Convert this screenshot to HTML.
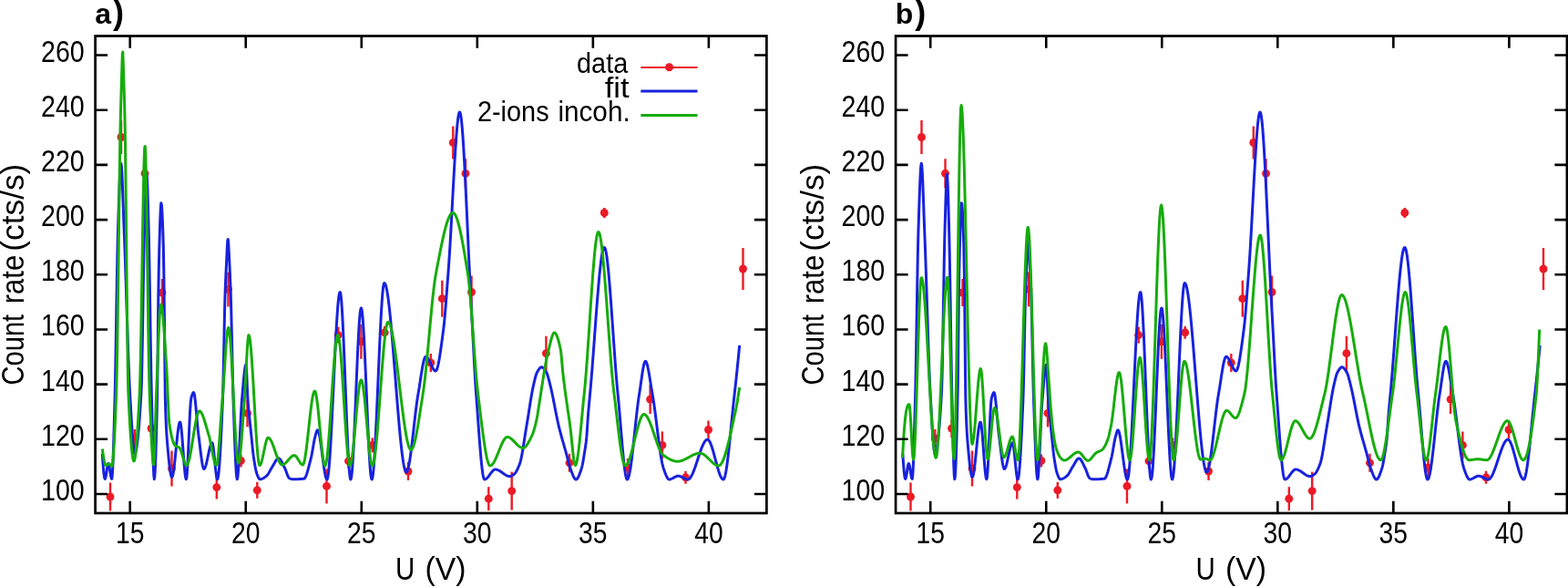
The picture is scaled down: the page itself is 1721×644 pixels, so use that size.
<!DOCTYPE html>
<html><head><meta charset="utf-8"><title>Count rate vs U</title>
<style>html,body{margin:0;padding:0;background:#fff;overflow:hidden}svg{display:block}</style>
</head><body>
<svg width="1721" height="644" viewBox="0 0 1721 644">
<style>
.t{font-family:"Liberation Sans",sans-serif;font-size:32.5px;fill:#000}
.a{font-family:"Liberation Sans",sans-serif;font-size:34.5px;fill:#000}
.l{font-family:"Liberation Sans",sans-serif;font-size:31px;fill:#000}
.b{font-family:"Liberation Sans",sans-serif;font-size:32px;font-weight:bold;fill:#000}
</style>
<rect width="1721" height="644" fill="#fff"/>
<clipPath id="ca"><rect x="104.6" y="39.5" width="736.8" height="523.5"/></clipPath>
<g clip-path="url(#ca)">
<line x1="121.0" y1="529.5" x2="121.0" y2="560.5" stroke="#ec1a26" stroke-width="2.4"/>
<circle cx="121.0" cy="545.0" r="4.45" fill="#ec1a26"/>
<line x1="133.0" y1="131.9" x2="133.0" y2="169.1" stroke="#ec1a26" stroke-width="2.4"/>
<circle cx="133.0" cy="150.5" r="4.45" fill="#ec1a26"/>
<line x1="147.8" y1="471.0" x2="147.8" y2="491.0" stroke="#ec1a26" stroke-width="2.4"/>
<circle cx="147.8" cy="481.0" r="4.45" fill="#ec1a26"/>
<line x1="159.0" y1="174.3" x2="159.0" y2="206.3" stroke="#ec1a26" stroke-width="2.4"/>
<circle cx="159.0" cy="190.3" r="4.45" fill="#ec1a26"/>
<line x1="166.0" y1="460.0" x2="166.0" y2="480.0" stroke="#ec1a26" stroke-width="2.4"/>
<circle cx="166.0" cy="470.0" r="4.45" fill="#ec1a26"/>
<line x1="178.0" y1="306.0" x2="178.0" y2="336.0" stroke="#ec1a26" stroke-width="2.4"/>
<circle cx="178.0" cy="321.0" r="4.45" fill="#ec1a26"/>
<line x1="188.5" y1="494.5" x2="188.5" y2="533.5" stroke="#ec1a26" stroke-width="2.4"/>
<circle cx="188.5" cy="514.0" r="4.45" fill="#ec1a26"/>
<line x1="237.8" y1="521.6" x2="237.8" y2="547.6" stroke="#ec1a26" stroke-width="2.4"/>
<circle cx="237.8" cy="534.6" r="4.45" fill="#ec1a26"/>
<line x1="250.5" y1="298.4" x2="250.5" y2="336.4" stroke="#ec1a26" stroke-width="2.4"/>
<circle cx="250.5" cy="317.4" r="4.45" fill="#ec1a26"/>
<line x1="264.4" y1="498.5" x2="264.4" y2="512.5" stroke="#ec1a26" stroke-width="2.4"/>
<circle cx="264.4" cy="505.5" r="4.45" fill="#ec1a26"/>
<line x1="271.5" y1="438.4" x2="271.5" y2="468.4" stroke="#ec1a26" stroke-width="2.4"/>
<circle cx="271.5" cy="453.4" r="4.45" fill="#ec1a26"/>
<line x1="282.3" y1="528.8" x2="282.3" y2="546.8" stroke="#ec1a26" stroke-width="2.4"/>
<circle cx="282.3" cy="537.8" r="4.45" fill="#ec1a26"/>
<line x1="358.5" y1="514.4" x2="358.5" y2="552.4" stroke="#ec1a26" stroke-width="2.4"/>
<circle cx="358.5" cy="533.4" r="4.45" fill="#ec1a26"/>
<line x1="371.2" y1="358.6" x2="371.2" y2="376.6" stroke="#ec1a26" stroke-width="2.4"/>
<circle cx="371.2" cy="367.6" r="4.45" fill="#ec1a26"/>
<line x1="382.5" y1="497.8" x2="382.5" y2="513.8" stroke="#ec1a26" stroke-width="2.4"/>
<circle cx="382.5" cy="505.8" r="4.45" fill="#ec1a26"/>
<line x1="396.4" y1="355.8" x2="396.4" y2="393.8" stroke="#ec1a26" stroke-width="2.4"/>
<circle cx="396.4" cy="374.8" r="4.45" fill="#ec1a26"/>
<line x1="408.7" y1="480.4" x2="408.7" y2="496.4" stroke="#ec1a26" stroke-width="2.4"/>
<circle cx="408.7" cy="488.4" r="4.45" fill="#ec1a26"/>
<line x1="422.2" y1="357.8" x2="422.2" y2="371.8" stroke="#ec1a26" stroke-width="2.4"/>
<circle cx="422.2" cy="364.8" r="4.45" fill="#ec1a26"/>
<line x1="448.0" y1="507.0" x2="448.0" y2="527.0" stroke="#ec1a26" stroke-width="2.4"/>
<circle cx="448.0" cy="517.0" r="4.45" fill="#ec1a26"/>
<line x1="472.8" y1="388.0" x2="472.8" y2="408.0" stroke="#ec1a26" stroke-width="2.4"/>
<circle cx="472.8" cy="398.0" r="4.45" fill="#ec1a26"/>
<line x1="485.3" y1="307.7" x2="485.3" y2="347.7" stroke="#ec1a26" stroke-width="2.4"/>
<circle cx="485.3" cy="327.7" r="4.45" fill="#ec1a26"/>
<line x1="497.3" y1="138.5" x2="497.3" y2="174.5" stroke="#ec1a26" stroke-width="2.4"/>
<circle cx="497.3" cy="156.5" r="4.45" fill="#ec1a26"/>
<line x1="511.0" y1="174.3" x2="511.0" y2="206.3" stroke="#ec1a26" stroke-width="2.4"/>
<circle cx="511.0" cy="190.3" r="4.45" fill="#ec1a26"/>
<line x1="517.5" y1="302.5" x2="517.5" y2="338.5" stroke="#ec1a26" stroke-width="2.4"/>
<circle cx="517.5" cy="320.5" r="4.45" fill="#ec1a26"/>
<line x1="536.3" y1="534.2" x2="536.3" y2="560.2" stroke="#ec1a26" stroke-width="2.4"/>
<circle cx="536.3" cy="547.2" r="4.45" fill="#ec1a26"/>
<line x1="561.7" y1="517.6" x2="561.7" y2="559.6" stroke="#ec1a26" stroke-width="2.4"/>
<circle cx="561.7" cy="538.6" r="4.45" fill="#ec1a26"/>
<line x1="599.4" y1="368.7" x2="599.4" y2="406.7" stroke="#ec1a26" stroke-width="2.4"/>
<circle cx="599.4" cy="387.7" r="4.45" fill="#ec1a26"/>
<line x1="625.0" y1="497.8" x2="625.0" y2="517.8" stroke="#ec1a26" stroke-width="2.4"/>
<circle cx="625.0" cy="507.8" r="4.45" fill="#ec1a26"/>
<line x1="663.3" y1="228.0" x2="663.3" y2="239.0" stroke="#ec1a26" stroke-width="2.4"/>
<circle cx="663.3" cy="233.5" r="4.45" fill="#ec1a26"/>
<line x1="689.0" y1="503.0" x2="689.0" y2="523.0" stroke="#ec1a26" stroke-width="2.4"/>
<circle cx="689.0" cy="513.0" r="4.45" fill="#ec1a26"/>
<line x1="713.6" y1="422.1" x2="713.6" y2="454.1" stroke="#ec1a26" stroke-width="2.4"/>
<circle cx="713.6" cy="438.1" r="4.45" fill="#ec1a26"/>
<line x1="726.9" y1="473.4" x2="726.9" y2="503.4" stroke="#ec1a26" stroke-width="2.4"/>
<circle cx="726.9" cy="488.4" r="4.45" fill="#ec1a26"/>
<line x1="752.5" y1="516.8" x2="752.5" y2="530.8" stroke="#ec1a26" stroke-width="2.4"/>
<circle cx="752.5" cy="523.8" r="4.45" fill="#ec1a26"/>
<line x1="777.5" y1="461.5" x2="777.5" y2="481.5" stroke="#ec1a26" stroke-width="2.4"/>
<circle cx="777.5" cy="471.5" r="4.45" fill="#ec1a26"/>
<line x1="815.5" y1="272.0" x2="815.5" y2="318.0" stroke="#ec1a26" stroke-width="2.4"/>
<circle cx="815.5" cy="295.0" r="4.45" fill="#ec1a26"/>
<path d="M112.30,497.70 L112.80,505.31 L113.30,512.13 L113.80,517.85 L114.30,522.18 L114.80,524.81 L115.30,525.46 L115.80,524.30 L116.30,521.89 L116.80,518.71 L117.30,515.29 L117.80,512.11 L118.30,509.70 L118.80,508.54 L119.30,509.03 L119.80,510.91 L120.30,513.72 L120.80,517.00 L121.30,520.28 L121.80,523.09 L122.30,524.97 L122.80,525.37 L123.30,521.17 L123.80,511.87 L124.30,498.65 L124.80,482.66 L125.30,465.08 L125.80,447.07 L126.30,428.04 L126.80,402.60 L127.30,372.58 L127.80,340.57 L128.30,309.22 L128.80,281.13 L129.30,258.92 L129.80,242.71 L130.30,226.96 L130.80,212.13 L131.30,199.07 L131.80,188.67 L132.30,181.79 L132.80,179.30 L133.30,182.05 L133.80,189.49 L134.30,200.42 L134.80,213.64 L135.30,227.94 L135.80,242.13 L136.30,255.01 L136.80,267.89 L137.30,281.93 L137.80,296.87 L138.30,312.44 L138.80,328.36 L139.30,344.35 L139.80,360.14 L140.30,375.45 L140.80,390.02 L141.30,403.56 L141.80,415.80 L142.30,426.47 L142.80,435.48 L143.30,444.32 L143.80,453.18 L144.30,461.85 L144.80,470.09 L145.30,477.68 L145.80,484.39 L146.30,490.01 L146.80,494.30 L147.30,497.04 L147.80,498.00 L148.30,497.62 L148.80,496.49 L149.30,494.63 L149.80,492.08 L150.30,488.86 L150.80,484.99 L151.30,480.49 L151.80,475.40 L152.30,469.73 L152.80,463.52 L153.30,456.78 L153.80,449.55 L154.30,441.84 L154.80,433.68 L155.30,421.86 L155.80,401.24 L156.30,374.39 L156.80,344.15 L157.30,313.32 L157.80,284.73 L158.30,261.18 L158.80,243.43 L159.30,225.71 L159.80,209.52 L160.30,197.30 L160.80,191.48 L161.30,194.23 L161.80,204.75 L162.30,220.49 L162.80,238.89 L163.30,257.61 L163.80,281.61 L164.30,311.61 L164.80,344.64 L165.30,377.70 L165.80,407.82 L166.30,432.00 L166.80,452.99 L167.30,474.29 L167.80,494.06 L168.30,510.47 L168.80,521.66 L169.30,525.80 L169.80,522.97 L170.30,514.95 L170.80,502.48 L171.30,486.29 L171.80,467.10 L172.30,445.65 L172.80,419.80 L173.30,372.90 L173.80,325.80 L174.30,295.63 L174.80,272.81 L175.30,255.95 L175.80,240.38 L176.30,228.44 L176.80,222.68 L177.30,224.16 L177.80,230.45 L178.30,240.64 L178.80,253.87 L179.30,269.30 L179.80,296.90 L180.30,336.18 L180.80,391.15 L181.30,435.45 L181.80,452.84 L182.30,465.39 L182.80,474.87 L183.30,482.16 L183.80,488.14 L184.30,493.76 L184.80,499.17 L185.30,504.27 L185.80,508.98 L186.30,513.19 L186.80,516.81 L187.30,519.74 L187.80,521.90 L188.30,523.17 L188.80,523.48 L189.30,522.71 L189.80,520.96 L190.30,518.34 L190.80,514.98 L191.30,511.03 L191.80,506.59 L192.30,501.81 L192.80,496.81 L193.30,491.72 L193.80,486.67 L194.30,481.78 L194.80,477.20 L195.30,473.03 L195.80,469.42 L196.30,466.50 L196.80,464.38 L197.30,463.20 L197.80,463.16 L198.30,464.86 L198.80,468.18 L199.30,472.81 L199.80,478.47 L200.30,484.84 L200.80,491.63 L201.30,498.55 L201.80,505.28 L202.30,511.53 L202.80,517.01 L203.30,521.40 L203.80,524.42 L204.30,525.76 L204.80,524.52 L205.30,519.71 L205.80,512.03 L206.30,502.24 L206.80,491.07 L207.30,479.27 L207.80,467.60 L208.30,456.78 L208.80,447.58 L209.30,440.74 L209.80,437.00 L210.30,435.13 L210.80,433.45 L211.30,432.06 L211.80,431.06 L212.30,430.55 L212.80,430.80 L213.30,432.54 L213.80,435.59 L214.30,439.71 L214.80,444.62 L215.30,450.08 L215.80,455.82 L216.30,461.58 L216.80,467.12 L217.30,472.16 L217.80,476.45 L218.30,480.20 L218.80,484.18 L219.30,488.31 L219.80,492.49 L220.30,496.60 L220.80,500.53 L221.30,504.19 L221.80,507.46 L222.30,510.23 L222.80,512.39 L223.30,513.85 L223.80,514.48 L224.30,514.33 L224.80,513.68 L225.30,512.59 L225.80,511.13 L226.30,509.36 L226.80,507.34 L227.30,505.13 L227.80,502.80 L228.30,500.39 L228.80,497.98 L229.30,495.62 L229.80,493.38 L230.30,491.32 L230.80,489.50 L231.30,487.97 L231.80,486.81 L232.30,486.06 L232.80,485.80 L233.30,486.64 L233.80,488.96 L234.30,492.44 L234.80,496.79 L235.30,501.69 L235.80,506.83 L236.30,511.92 L236.80,516.63 L237.30,520.67 L237.80,523.73 L238.30,525.49 L238.80,525.66 L239.30,524.09 L239.80,520.89 L240.30,516.21 L240.80,510.16 L241.30,502.88 L241.80,494.51 L242.30,485.18 L242.80,475.01 L243.30,464.14 L243.80,452.71 L244.30,440.84 L244.80,426.87 L245.30,405.26 L245.80,379.32 L246.30,353.24 L246.80,331.23 L247.30,316.04 L247.80,303.83 L248.30,293.23 L248.80,283.14 L249.30,272.03 L249.80,263.69 L250.30,262.58 L250.80,268.17 L251.30,277.36 L251.80,287.30 L252.30,297.73 L252.80,310.19 L253.30,324.50 L253.80,342.58 L254.30,364.79 L254.80,388.58 L255.30,411.43 L255.80,430.80 L256.30,445.59 L256.80,460.10 L257.30,474.38 L257.80,487.90 L258.30,500.14 L258.80,510.58 L259.30,518.68 L259.80,523.93 L260.30,525.80 L260.80,523.99 L261.30,518.99 L261.80,511.45 L262.30,502.00 L262.80,491.29 L263.30,479.95 L263.80,468.63 L264.30,457.97 L264.80,448.61 L265.30,441.19 L265.80,435.34 L266.30,429.37 L266.80,423.41 L267.30,417.70 L267.80,412.44 L268.30,407.84 L268.80,404.11 L269.30,401.47 L269.80,400.13 L270.30,401.92 L270.80,411.42 L271.30,424.33 L271.80,435.45 L272.30,442.33 L272.80,448.30 L273.30,453.66 L273.80,458.60 L274.30,463.28 L274.80,467.88 L275.30,472.56 L275.80,477.49 L276.30,482.59 L276.80,487.67 L277.30,492.56 L277.80,497.07 L278.30,501.02 L278.80,504.35 L279.30,507.50 L279.80,510.47 L280.30,513.20 L280.80,515.65 L281.30,517.74 L281.80,519.44 L282.30,520.78 L282.80,522.05 L283.30,523.23 L283.80,524.26 L284.30,525.07 L284.80,525.61 L285.30,525.80 L285.80,525.78 L286.30,525.70 L286.80,525.59 L287.30,525.43 L287.80,525.23 L288.30,525.01 L288.80,524.75 L289.30,524.46 L289.80,524.15 L290.30,523.81 L290.80,523.46 L291.30,523.10 L291.80,522.72 L292.30,522.33 L292.80,521.93 L293.30,521.42 L293.80,520.80 L294.30,520.07 L294.80,519.27 L295.30,518.40 L295.80,517.50 L296.30,516.56 L296.80,515.63 L297.30,514.71 L297.80,513.81 L298.30,512.97 L298.80,512.20 L299.30,511.43 L299.80,510.60 L300.30,509.73 L300.80,508.83 L301.30,507.93 L301.80,507.05 L302.30,506.20 L302.80,505.41 L303.30,504.70 L303.80,504.07 L304.30,503.56 L304.80,503.18 L305.30,502.96 L305.80,502.90 L306.30,503.04 L306.80,503.36 L307.30,503.84 L307.80,504.46 L308.30,505.20 L308.80,506.04 L309.30,506.96 L309.80,507.94 L310.30,508.96 L310.80,509.99 L311.30,511.03 L311.80,512.05 L312.30,513.03 L312.80,514.00 L313.30,515.15 L313.80,516.45 L314.30,517.84 L314.80,519.25 L315.30,520.63 L315.80,521.90 L316.30,523.00 L316.80,523.88 L317.30,524.46 L317.80,524.76 L318.30,525.01 L318.80,525.24 L319.30,525.43 L319.80,525.59 L320.30,525.71 L320.80,525.78 L321.30,525.80 L321.80,525.80 L322.30,525.80 L322.80,525.79 L323.30,525.78 L323.80,525.78 L324.30,525.77 L324.80,525.75 L325.30,525.74 L325.80,525.72 L326.30,525.71 L326.80,525.69 L327.30,525.66 L327.80,525.64 L328.30,525.61 L328.80,525.59 L329.30,525.56 L329.80,525.52 L330.30,525.49 L330.80,525.45 L331.30,525.41 L331.80,525.37 L332.30,525.33 L332.80,525.28 L333.30,525.23 L333.80,525.15 L334.30,524.83 L334.80,524.23 L335.30,523.38 L335.80,522.29 L336.30,521.01 L336.80,519.55 L337.30,517.95 L337.80,516.21 L338.30,514.38 L338.80,512.48 L339.30,510.52 L339.80,508.55 L340.30,506.58 L340.80,504.64 L341.30,502.71 L341.80,500.48 L342.30,497.94 L342.80,495.18 L343.30,492.31 L343.80,489.40 L344.30,486.55 L344.80,483.86 L345.30,481.42 L345.80,479.32 L346.30,477.53 L346.80,475.69 L347.30,473.97 L347.80,472.62 L348.30,471.87 L348.80,471.93 L349.30,472.71 L349.80,474.13 L350.30,476.11 L350.80,478.58 L351.30,481.47 L351.80,484.71 L352.30,488.22 L352.80,491.93 L353.30,495.78 L353.80,499.68 L354.30,503.57 L354.80,507.37 L355.30,511.01 L355.80,514.42 L356.30,517.53 L356.80,520.26 L357.30,522.55 L357.80,524.31 L358.30,525.48 L358.80,525.99 L359.30,525.53 L359.80,523.66 L360.30,520.48 L360.80,516.08 L361.30,510.58 L361.80,504.07 L362.30,496.67 L362.80,488.48 L363.30,479.61 L363.80,470.15 L364.30,460.22 L364.80,449.92 L365.30,439.36 L365.80,428.64 L366.30,417.86 L366.80,407.14 L367.30,396.58 L367.80,386.28 L368.30,376.35 L368.80,366.89 L369.30,358.02 L369.80,349.83 L370.30,342.43 L370.80,335.92 L371.30,330.42 L371.80,326.02 L372.30,322.84 L372.80,320.97 L373.30,320.54 L373.80,322.07 L374.30,325.61 L374.80,330.98 L375.30,337.98 L375.80,346.43 L376.30,356.13 L376.80,366.89 L377.30,378.52 L377.80,390.82 L378.30,403.60 L378.80,416.67 L379.30,429.83 L379.80,442.90 L380.30,455.68 L380.80,467.98 L381.30,479.61 L381.80,490.37 L382.30,500.07 L382.80,508.52 L383.30,515.52 L383.80,520.89 L384.30,524.43 L384.80,525.96 L385.30,525.33 L385.80,522.72 L386.30,518.32 L386.80,512.29 L387.30,504.84 L387.80,496.15 L388.30,486.40 L388.80,475.77 L389.30,464.46 L389.80,452.65 L390.30,440.53 L390.80,428.27 L391.30,416.07 L391.80,404.11 L392.30,392.58 L392.80,381.66 L393.30,371.54 L393.80,362.40 L394.30,354.43 L394.80,347.81 L395.30,342.73 L395.80,339.38 L396.30,337.94 L396.80,338.54 L397.30,341.07 L397.80,345.34 L398.30,351.17 L398.80,358.40 L399.30,366.84 L399.80,376.32 L400.30,386.67 L400.80,397.70 L401.30,409.24 L401.80,421.12 L402.30,433.16 L402.80,445.17 L403.30,457.00 L403.80,468.45 L404.30,479.36 L404.80,489.55 L405.30,498.84 L405.80,507.05 L406.30,514.01 L406.80,519.55 L407.30,523.48 L407.80,525.64 L408.30,525.86 L408.80,524.37 L409.30,521.33 L409.80,516.87 L410.30,511.11 L410.80,504.19 L411.30,496.22 L411.80,487.33 L412.30,477.66 L412.80,467.31 L413.30,456.43 L413.80,445.13 L414.30,433.54 L414.80,421.79 L415.30,410.00 L415.80,398.30 L416.30,386.81 L416.80,375.66 L417.30,364.98 L417.80,354.88 L418.30,345.51 L418.80,336.97 L419.30,329.41 L419.80,322.94 L420.30,317.68 L420.80,313.78 L421.30,311.34 L421.80,310.50 L422.30,310.76 L422.80,311.53 L423.30,312.79 L423.80,314.52 L424.30,316.69 L424.80,319.28 L425.30,322.27 L425.80,325.63 L426.30,329.36 L426.80,333.41 L427.30,337.78 L427.80,342.44 L428.30,347.37 L428.80,352.54 L429.30,357.94 L429.80,363.54 L430.30,369.31 L430.80,375.25 L431.30,381.32 L431.80,387.51 L432.30,393.79 L432.80,400.14 L433.30,406.54 L433.80,412.96 L434.30,419.39 L434.80,425.80 L435.30,432.18 L435.80,438.49 L436.30,444.71 L436.80,450.83 L437.30,456.83 L437.80,462.67 L438.30,468.35 L438.80,473.83 L439.30,479.09 L439.80,484.12 L440.30,488.89 L440.80,493.38 L441.30,497.56 L441.80,501.42 L442.30,504.93 L442.80,508.08 L443.30,510.83 L443.80,513.17 L444.30,515.07 L444.80,516.52 L445.30,517.49 L445.80,517.96 L446.30,517.90 L446.80,517.32 L447.30,516.24 L447.80,514.71 L448.30,512.75 L448.80,510.39 L449.30,507.68 L449.80,504.64 L450.30,501.31 L450.80,497.72 L451.30,493.91 L451.80,489.92 L452.30,485.76 L452.80,481.49 L453.30,477.13 L453.80,472.72 L454.30,468.29 L454.80,463.87 L455.30,459.50 L455.80,455.21 L456.30,451.05 L456.80,447.03 L457.30,443.19 L457.80,439.58 L458.30,436.22 L458.80,433.14 L459.30,430.29 L459.80,427.29 L460.30,424.15 L460.80,420.92 L461.30,417.63 L461.80,414.34 L462.30,411.10 L462.80,407.94 L463.30,404.92 L463.80,402.08 L464.30,399.47 L464.80,397.14 L465.30,395.12 L465.80,393.48 L466.30,392.24 L466.80,391.47 L467.30,391.20 L467.80,391.30 L468.30,391.58 L468.80,392.03 L469.30,392.62 L469.80,393.35 L470.30,394.18 L470.80,395.10 L471.30,396.10 L471.80,397.14 L472.30,398.22 L472.80,399.32 L473.30,400.41 L473.80,401.48 L474.30,402.51 L474.80,403.48 L475.30,404.36 L475.80,405.16 L476.30,405.83 L476.80,406.37 L477.30,406.75 L477.80,406.96 L478.30,406.96 L478.80,406.54 L479.30,405.68 L479.80,404.40 L480.30,402.75 L480.80,400.75 L481.30,398.43 L481.80,395.83 L482.30,392.96 L482.80,389.88 L483.30,386.59 L483.80,383.15 L484.30,379.57 L484.80,375.89 L485.30,372.13 L485.80,368.34 L486.30,364.53 L486.80,360.73 L487.30,356.47 L487.80,351.58 L488.30,346.15 L488.80,340.29 L489.30,334.09 L489.80,327.65 L490.30,321.04 L490.80,314.39 L491.30,307.76 L491.80,301.27 L492.30,294.72 L492.80,287.57 L493.30,279.89 L493.80,271.75 L494.30,263.22 L494.80,254.38 L495.30,245.29 L495.80,236.03 L496.30,226.67 L496.80,217.29 L497.30,207.96 L497.80,198.75 L498.30,189.73 L498.80,180.97 L499.30,172.56 L499.80,164.56 L500.30,157.04 L500.80,150.08 L501.30,143.76 L501.80,138.13 L502.30,133.28 L502.80,129.28 L503.30,126.20 L503.80,124.11 L504.30,123.09 L504.80,123.23 L505.30,124.57 L505.80,127.07 L506.30,130.65 L506.80,135.24 L507.30,140.76 L507.80,147.15 L508.30,154.34 L508.80,162.24 L509.30,170.80 L509.80,179.93 L510.30,189.57 L510.80,199.64 L511.30,210.08 L511.80,220.81 L512.30,231.75 L512.80,242.84 L513.30,254.01 L513.80,265.19 L514.30,276.29 L514.80,287.26 L515.30,298.01 L515.80,308.48 L516.30,318.60 L516.80,328.29 L517.30,337.48 L517.80,346.30 L518.30,355.48 L518.80,364.96 L519.30,374.61 L519.80,384.27 L520.30,393.81 L520.80,403.08 L521.30,411.94 L521.80,420.24 L522.30,427.84 L522.80,434.68 L523.30,441.52 L523.80,448.49 L524.30,455.51 L524.80,462.55 L525.30,469.52 L525.80,476.36 L526.30,483.02 L526.80,489.43 L527.30,495.53 L527.80,501.26 L528.30,506.54 L528.80,511.33 L529.30,515.55 L529.80,519.14 L530.30,522.05 L530.80,524.20 L531.30,525.54 L531.80,526.00 L532.30,525.94 L532.80,525.78 L533.30,525.52 L533.80,525.17 L534.30,524.75 L534.80,524.26 L535.30,523.71 L535.80,523.11 L536.30,522.47 L536.80,521.81 L537.30,521.12 L537.80,520.43 L538.30,519.74 L538.80,519.06 L539.30,518.40 L539.80,517.77 L540.30,517.18 L540.80,516.64 L541.30,516.16 L541.80,515.75 L542.30,515.42 L542.80,515.18 L543.30,515.04 L543.80,515.00 L544.30,515.03 L544.80,515.11 L545.30,515.22 L545.80,515.37 L546.30,515.55 L546.80,515.76 L547.30,516.00 L547.80,516.27 L548.30,516.56 L548.80,516.86 L549.30,517.19 L549.80,517.52 L550.30,517.87 L550.80,518.22 L551.30,518.58 L551.80,518.94 L552.30,519.30 L552.80,519.66 L553.30,520.01 L553.80,520.35 L554.30,520.67 L554.80,520.98 L555.30,521.27 L555.80,521.54 L556.30,521.79 L556.80,522.01 L557.30,522.20 L557.80,522.35 L558.30,522.48 L558.80,522.56 L559.30,522.60 L559.80,522.59 L560.30,522.51 L560.80,522.37 L561.30,522.17 L561.80,521.93 L562.30,521.65 L562.80,521.33 L563.30,520.99 L563.80,520.64 L564.30,520.27 L564.80,519.80 L565.30,519.23 L565.80,518.57 L566.30,517.83 L566.80,517.00 L567.30,516.08 L567.80,515.10 L568.30,514.03 L568.80,512.90 L569.30,511.71 L569.80,510.45 L570.30,509.14 L570.80,507.72 L571.30,505.97 L571.80,503.92 L572.30,501.59 L572.80,499.03 L573.30,496.26 L573.80,493.32 L574.30,490.25 L574.80,487.09 L575.30,483.88 L575.80,480.64 L576.30,477.41 L576.80,474.23 L577.30,471.14 L577.80,468.18 L578.30,465.27 L578.80,462.26 L579.30,459.16 L579.80,456.00 L580.30,452.80 L580.80,449.57 L581.30,446.36 L581.80,443.17 L582.30,440.04 L582.80,436.98 L583.30,434.02 L583.80,431.18 L584.30,428.49 L584.80,425.97 L585.30,423.64 L585.80,421.45 L586.30,419.27 L586.80,417.14 L587.30,415.11 L587.80,413.23 L588.30,411.53 L588.80,410.07 L589.30,408.88 L589.80,407.97 L590.30,407.09 L590.80,406.26 L591.30,405.47 L591.80,404.76 L592.30,404.13 L592.80,403.60 L593.30,403.19 L593.80,402.92 L594.30,402.80 L594.80,402.85 L595.30,403.03 L595.80,403.33 L596.30,403.75 L596.80,404.26 L597.30,404.86 L597.80,405.53 L598.30,406.26 L598.80,407.03 L599.30,407.84 L599.80,408.67 L600.30,409.73 L600.80,411.06 L601.30,412.63 L601.80,414.38 L602.30,416.26 L602.80,418.23 L603.30,420.23 L603.80,422.22 L604.30,424.19 L604.80,426.26 L605.30,428.46 L605.80,430.75 L606.30,433.12 L606.80,435.57 L607.30,438.07 L607.80,440.62 L608.30,443.20 L608.80,445.79 L609.30,448.39 L609.80,450.98 L610.30,453.54 L610.80,456.06 L611.30,458.53 L611.80,460.93 L612.30,463.25 L612.80,465.48 L613.30,467.60 L613.80,469.63 L614.30,471.61 L614.80,473.53 L615.30,475.42 L615.80,477.26 L616.30,479.07 L616.80,480.86 L617.30,482.62 L617.80,484.37 L618.30,486.11 L618.80,487.84 L619.30,489.58 L619.80,491.33 L620.30,493.09 L620.80,494.87 L621.30,496.67 L621.80,498.52 L622.30,500.47 L622.80,502.47 L623.30,504.50 L623.80,506.51 L624.30,508.45 L624.80,510.28 L625.30,511.97 L625.80,513.46 L626.30,514.78 L626.80,516.11 L627.30,517.46 L627.80,518.79 L628.30,520.08 L628.80,521.31 L629.30,522.44 L629.80,523.47 L630.30,524.35 L630.80,525.07 L631.30,525.60 L631.80,525.92 L632.30,526.00 L632.80,525.83 L633.30,525.45 L633.80,524.87 L634.30,524.10 L634.80,523.18 L635.30,522.10 L635.80,520.90 L636.30,519.59 L636.80,518.19 L637.30,516.72 L637.80,515.19 L638.30,513.63 L638.80,511.94 L639.30,509.75 L639.80,507.12 L640.30,504.18 L640.80,501.06 L641.30,497.88 L641.80,494.77 L642.30,491.71 L642.80,488.42 L643.30,484.64 L643.80,479.93 L644.30,473.31 L644.80,465.61 L645.30,458.01 L645.80,451.58 L646.30,445.86 L646.80,440.46 L647.30,435.18 L647.80,429.84 L648.30,424.24 L648.80,418.38 L649.30,412.30 L649.80,406.03 L650.30,399.59 L650.80,393.01 L651.30,386.33 L651.80,379.58 L652.30,372.78 L652.80,365.96 L653.30,359.16 L653.80,352.39 L654.30,345.70 L654.80,339.12 L655.30,332.66 L655.80,326.37 L656.30,320.26 L656.80,314.38 L657.30,308.75 L657.80,303.40 L658.30,298.36 L658.80,293.65 L659.30,289.32 L659.80,285.39 L660.30,281.88 L660.80,278.83 L661.30,276.27 L661.80,274.23 L662.30,272.73 L662.80,271.81 L663.30,271.50 L663.80,271.88 L664.30,272.98 L664.80,274.76 L665.30,277.20 L665.80,280.23 L666.30,283.83 L666.80,287.95 L667.30,292.56 L667.80,297.60 L668.30,303.05 L668.80,308.86 L669.30,314.99 L669.80,321.40 L670.30,328.04 L670.80,334.89 L671.30,341.90 L671.80,349.02 L672.30,356.22 L672.80,363.46 L673.30,370.69 L673.80,377.89 L674.30,384.99 L674.80,391.97 L675.30,398.79 L675.80,405.40 L676.30,411.76 L676.80,417.84 L677.30,423.58 L677.80,428.97 L678.30,434.00 L678.80,439.24 L679.30,444.77 L679.80,450.52 L680.30,456.45 L680.80,462.49 L681.30,468.58 L681.80,474.66 L682.30,480.67 L682.80,486.56 L683.30,492.26 L683.80,497.71 L684.30,502.86 L684.80,507.65 L685.30,512.01 L685.80,515.89 L686.30,519.23 L686.80,521.97 L687.30,524.05 L687.80,525.40 L688.30,525.98 L688.80,525.82 L689.30,525.11 L689.80,523.88 L690.30,522.19 L690.80,520.05 L691.30,517.50 L691.80,514.58 L692.30,511.33 L692.80,507.77 L693.30,503.95 L693.80,499.89 L694.30,495.63 L694.80,491.21 L695.30,486.66 L695.80,482.01 L696.30,477.30 L696.80,472.57 L697.30,467.85 L697.80,463.16 L698.30,458.56 L698.80,454.07 L699.30,449.72 L699.80,445.56 L700.30,441.61 L700.80,437.91 L701.30,434.50 L701.80,431.40 L702.30,428.22 L702.80,424.83 L703.30,421.32 L703.80,417.75 L704.30,414.22 L704.80,410.79 L705.30,407.54 L705.80,404.56 L706.30,401.92 L706.80,399.70 L707.30,397.97 L707.80,396.81 L708.30,396.31 L708.80,396.48 L709.30,397.17 L709.80,398.34 L710.30,399.94 L710.80,401.91 L711.30,404.21 L711.80,406.77 L712.30,409.56 L712.80,412.51 L713.30,415.58 L713.80,418.72 L714.30,421.87 L714.80,424.98 L715.30,428.01 L715.80,430.90 L716.30,433.68 L716.80,436.66 L717.30,439.86 L717.80,443.25 L718.30,446.81 L718.80,450.50 L719.30,454.31 L719.80,458.22 L720.30,462.18 L720.80,466.19 L721.30,470.21 L721.80,474.22 L722.30,478.20 L722.80,482.11 L723.30,485.94 L723.80,489.66 L724.30,493.24 L724.80,496.67 L725.30,499.90 L725.80,502.93 L726.30,505.71 L726.80,508.24 L727.30,510.48 L727.80,512.41 L728.30,514.00 L728.80,515.42 L729.30,516.83 L729.80,518.21 L730.30,519.54 L730.80,520.80 L731.30,521.97 L731.80,523.03 L732.30,523.96 L732.80,524.75 L733.30,525.36 L733.80,525.77 L734.30,525.98 L734.80,525.99 L735.30,525.93 L735.80,525.82 L736.30,525.66 L736.80,525.47 L737.30,525.25 L737.80,525.00 L738.30,524.73 L738.80,524.45 L739.30,524.16 L739.80,523.87 L740.30,523.58 L740.80,523.31 L741.30,523.05 L741.80,522.82 L742.30,522.61 L742.80,522.44 L743.30,522.31 L743.80,522.23 L744.30,522.20 L744.80,522.22 L745.30,522.29 L745.80,522.40 L746.30,522.55 L746.80,522.73 L747.30,522.93 L747.80,523.15 L748.30,523.40 L748.80,523.65 L749.30,523.91 L749.80,524.18 L750.30,524.44 L750.80,524.70 L751.30,524.95 L751.80,525.18 L752.30,525.40 L752.80,525.58 L753.30,525.74 L753.80,525.87 L754.30,525.95 L754.80,526.00 L755.30,525.97 L755.80,525.82 L756.30,525.54 L756.80,525.13 L757.30,524.60 L757.80,523.96 L758.30,523.22 L758.80,522.38 L759.30,521.44 L759.80,520.43 L760.30,519.33 L760.80,518.16 L761.30,516.92 L761.80,515.63 L762.30,514.28 L762.80,512.89 L763.30,511.46 L763.80,509.99 L764.30,508.50 L764.80,507.00 L765.30,505.47 L765.80,503.95 L766.30,502.42 L766.80,500.90 L767.30,499.40 L767.80,497.91 L768.30,496.45 L768.80,495.03 L769.30,493.65 L769.80,492.31 L770.30,491.03 L770.80,489.80 L771.30,488.65 L771.80,487.56 L772.30,486.56 L772.80,485.65 L773.30,484.82 L773.80,484.10 L774.30,483.48 L774.80,482.98 L775.30,482.59 L775.80,482.34 L776.30,482.21 L776.80,482.24 L777.30,482.47 L777.80,482.90 L778.30,483.51 L778.80,484.29 L779.30,485.24 L779.80,486.33 L780.30,487.55 L780.80,488.90 L781.30,490.36 L781.80,491.92 L782.30,493.56 L782.80,495.27 L783.30,497.04 L783.80,498.86 L784.30,500.71 L784.80,502.59 L785.30,504.48 L785.80,506.36 L786.30,508.23 L786.80,510.07 L787.30,511.88 L787.80,513.62 L788.30,515.31 L788.80,516.92 L789.30,518.43 L789.80,519.85 L790.30,521.15 L790.80,522.32 L791.30,523.36 L791.80,524.24 L792.30,524.96 L792.80,525.50 L793.30,525.85 L793.80,526.00 L794.30,525.82 L794.80,525.09 L795.30,523.85 L795.80,522.11 L796.30,519.92 L796.80,517.31 L797.30,514.31 L797.80,510.95 L798.30,507.27 L798.80,503.30 L799.30,499.07 L799.80,494.62 L800.30,489.97 L800.80,485.16 L801.30,480.23 L801.80,475.20 L802.30,470.11 L802.80,464.99 L803.30,459.88 L803.80,454.80 L804.30,449.80 L804.80,444.90 L805.30,440.13 L805.80,435.53 L806.30,431.13 L806.80,426.72 L807.30,422.19 L807.80,417.56 L808.30,412.83 L808.80,408.02 L809.30,403.13 L809.80,398.18 L810.30,393.16 L810.80,388.10 L811.30,383.00 L811.70,378.90" fill="none" stroke="#1822de" stroke-width="3" stroke-linejoin="round"/>
<path d="M112.30,492.50 L112.80,496.06 L113.30,499.44 L113.80,502.55 L114.30,505.28 L114.80,507.54 L115.30,509.22 L115.80,510.24 L116.30,510.50 L116.80,510.39 L117.30,510.17 L117.80,509.87 L118.30,509.56 L118.80,509.28 L119.30,509.08 L119.80,509.00 L120.30,509.19 L120.80,509.65 L121.30,510.25 L121.80,510.85 L122.30,511.31 L122.80,511.50 L123.30,510.32 L123.80,506.94 L124.30,501.57 L124.80,494.43 L125.30,485.75 L125.80,475.73 L126.30,464.59 L126.80,452.56 L127.30,439.86 L127.80,425.91 L128.30,404.23 L128.80,374.98 L129.30,340.19 L129.80,301.89 L130.30,262.11 L130.80,222.88 L131.30,186.23 L131.80,154.19 L132.30,128.80 L132.80,109.57 L133.30,93.17 L133.80,76.19 L134.30,59.37 L134.80,56.99 L135.30,70.00 L135.80,86.90 L136.30,102.26 L136.80,120.25 L137.30,144.98 L137.80,181.77 L138.30,227.09 L138.80,276.59 L139.30,325.92 L139.80,370.73 L140.30,406.68 L140.80,429.42 L141.30,440.66 L141.80,450.86 L142.30,460.33 L142.80,469.04 L143.30,476.93 L143.80,483.97 L144.30,490.11 L144.80,495.32 L145.30,499.54 L145.80,502.74 L146.30,504.88 L146.80,505.91 L147.30,505.76 L147.80,504.34 L148.30,501.71 L148.80,497.98 L149.30,493.24 L149.80,487.57 L150.30,481.08 L150.80,473.87 L151.30,466.01 L151.80,457.61 L152.30,448.76 L152.80,439.56 L153.30,429.93 L153.80,414.89 L154.30,393.24 L154.80,366.55 L155.30,336.40 L155.80,304.38 L156.30,272.06 L156.80,241.02 L157.30,212.84 L157.80,189.10 L158.30,171.38 L158.80,161.27 L159.30,160.53 L159.80,171.34 L160.30,192.07 L160.80,220.36 L161.30,253.90 L161.80,290.34 L162.30,327.34 L162.80,362.59 L163.30,393.73 L163.80,418.44 L164.30,434.59 L164.80,447.46 L165.30,459.97 L165.80,471.78 L166.30,482.58 L166.80,492.03 L167.30,499.82 L167.80,505.62 L168.30,509.10 L168.80,509.80 L169.30,503.63 L169.80,490.80 L170.30,474.07 L170.80,456.18 L171.30,439.88 L171.80,427.30 L172.30,414.87 L172.80,401.84 L173.30,388.69 L173.80,375.91 L174.30,363.99 L174.80,353.42 L175.30,344.68 L175.80,338.25 L176.30,334.63 L176.80,334.12 L177.30,335.44 L177.80,338.08 L178.30,341.88 L178.80,346.70 L179.30,352.37 L179.80,358.74 L180.30,365.65 L180.80,372.94 L181.30,380.47 L181.80,388.07 L182.30,395.59 L182.80,403.17 L183.30,413.05 L183.80,424.72 L184.30,436.92 L184.80,448.41 L185.30,457.93 L185.80,464.24 L186.30,467.61 L186.80,470.66 L187.30,473.47 L187.80,476.04 L188.30,478.38 L188.80,480.48 L189.30,482.36 L189.80,484.01 L190.30,485.43 L190.80,486.63 L191.30,487.61 L191.80,488.37 L192.30,488.92 L192.80,489.28 L193.30,489.56 L193.80,489.77 L194.30,489.95 L194.80,490.11 L195.30,490.28 L195.80,490.48 L196.30,490.74 L196.80,491.08 L197.30,491.68 L197.80,492.58 L198.30,493.73 L198.80,495.09 L199.30,496.61 L199.80,498.24 L200.30,499.94 L200.80,501.66 L201.30,503.35 L201.80,504.97 L202.30,506.46 L202.80,507.79 L203.30,508.91 L203.80,509.76 L204.30,510.31 L204.80,510.50 L205.30,510.28 L205.80,509.64 L206.30,508.62 L206.80,507.25 L207.30,505.55 L207.80,503.57 L208.30,501.32 L208.80,498.85 L209.30,496.19 L209.80,493.36 L210.30,490.40 L210.80,487.35 L211.30,484.22 L211.80,481.07 L212.30,477.91 L212.80,474.77 L213.30,471.70 L213.80,468.72 L214.30,465.87 L214.80,463.17 L215.30,460.66 L215.80,458.36 L216.30,456.32 L216.80,454.57 L217.30,453.12 L217.80,452.03 L218.30,451.31 L218.80,451.01 L219.30,451.07 L219.80,451.35 L220.30,451.82 L220.80,452.48 L221.30,453.31 L221.80,454.30 L222.30,455.42 L222.80,456.67 L223.30,458.03 L223.80,459.49 L224.30,461.03 L224.80,462.64 L225.30,464.30 L225.80,466.01 L226.30,467.73 L226.80,469.47 L227.30,471.21 L227.80,472.92 L228.30,474.61 L228.80,476.25 L229.30,477.85 L229.80,479.70 L230.30,481.81 L230.80,484.13 L231.30,486.62 L231.80,489.21 L232.30,491.87 L232.80,494.53 L233.30,497.15 L233.80,499.67 L234.30,502.05 L234.80,504.24 L235.30,506.18 L235.80,507.82 L236.30,509.12 L236.80,510.01 L237.30,510.46 L237.80,510.21 L238.30,508.54 L238.80,505.54 L239.30,501.39 L239.80,496.26 L240.30,490.35 L240.80,483.84 L241.30,476.91 L241.80,469.74 L242.30,462.52 L242.80,455.42 L243.30,448.63 L243.80,442.34 L244.30,436.41 L244.80,429.75 L245.30,422.44 L245.80,414.69 L246.30,406.71 L246.80,398.72 L247.30,390.91 L247.80,383.51 L248.30,376.72 L248.80,370.77 L249.30,365.85 L249.80,362.18 L250.30,359.97 L250.80,359.44 L251.30,360.68 L251.80,363.56 L252.30,367.92 L252.80,373.58 L253.30,380.38 L253.80,388.15 L254.30,396.73 L254.80,405.94 L255.30,415.63 L255.80,425.61 L256.30,435.73 L256.80,445.81 L257.30,455.69 L257.80,465.21 L258.30,474.19 L258.80,482.46 L259.30,489.87 L259.80,496.23 L260.30,501.39 L260.80,505.18 L261.30,507.42 L261.80,507.97 L262.30,507.00 L262.80,504.74 L263.30,501.37 L263.80,497.02 L264.30,491.84 L264.80,485.99 L265.30,479.62 L265.80,472.87 L266.30,465.90 L266.80,458.85 L267.30,451.88 L267.80,445.13 L268.30,438.71 L268.80,431.16 L269.30,422.19 L269.80,412.36 L270.30,402.27 L270.80,392.48 L271.30,383.56 L271.80,376.11 L272.30,370.68 L272.80,367.87 L273.30,367.86 L273.80,369.42 L274.30,372.27 L274.80,376.28 L275.30,381.34 L275.80,387.31 L276.30,394.08 L276.80,401.51 L277.30,409.50 L277.80,417.90 L278.30,426.60 L278.80,435.48 L279.30,444.40 L279.80,453.26 L280.30,461.91 L280.80,470.24 L281.30,478.12 L281.80,485.43 L282.30,492.05 L282.80,497.85 L283.30,502.71 L283.80,506.50 L284.30,509.10 L284.80,510.38 L285.30,510.41 L285.80,509.87 L286.30,508.89 L286.80,507.53 L287.30,505.86 L287.80,503.91 L288.30,501.76 L288.80,499.46 L289.30,497.06 L289.80,494.62 L290.30,492.19 L290.80,489.84 L291.30,487.62 L291.80,485.59 L292.30,483.80 L292.80,482.31 L293.30,481.18 L293.80,480.45 L294.30,480.20 L294.80,480.29 L295.30,480.56 L295.80,480.99 L296.30,481.57 L296.80,482.29 L297.30,483.14 L297.80,484.10 L298.30,485.17 L298.80,486.33 L299.30,487.56 L299.80,488.86 L300.30,490.21 L300.80,491.61 L301.30,493.03 L301.80,494.47 L302.30,495.92 L302.80,497.36 L303.30,498.77 L303.80,500.16 L304.30,501.51 L304.80,502.79 L305.30,504.01 L305.80,505.15 L306.30,506.20 L306.80,507.14 L307.30,507.96 L307.80,508.66 L308.30,509.21 L308.80,509.61 L309.30,509.84 L309.80,509.90 L310.30,509.84 L310.80,509.70 L311.30,509.49 L311.80,509.21 L312.30,508.87 L312.80,508.48 L313.30,508.04 L313.80,507.57 L314.30,507.06 L314.80,506.52 L315.30,505.96 L315.80,505.39 L316.30,504.81 L316.80,504.23 L317.30,503.65 L317.80,503.09 L318.30,502.55 L318.80,502.03 L319.30,501.55 L319.80,501.10 L320.30,500.70 L320.80,500.35 L321.30,500.06 L321.80,499.84 L322.30,499.68 L322.80,499.61 L323.30,499.63 L323.80,499.82 L324.30,500.15 L324.80,500.61 L325.30,501.18 L325.80,501.84 L326.30,502.57 L326.80,503.35 L327.30,504.17 L327.80,505.00 L328.30,505.82 L328.80,506.62 L329.30,507.38 L329.80,508.07 L330.30,508.68 L330.80,509.18 L331.30,509.57 L331.80,509.81 L332.30,509.90 L332.80,509.56 L333.30,508.56 L333.80,506.96 L334.30,504.82 L334.80,502.19 L335.30,499.11 L335.80,495.66 L336.30,491.88 L336.80,487.82 L337.30,483.54 L337.80,479.09 L338.30,474.53 L338.80,469.91 L339.30,465.29 L339.80,460.71 L340.30,456.24 L340.80,451.92 L341.30,447.81 L341.80,443.97 L342.30,440.45 L342.80,437.30 L343.30,434.57 L343.80,432.33 L344.30,430.62 L344.80,429.49 L345.30,429.01 L345.80,429.30 L346.30,430.45 L346.80,432.40 L347.30,435.07 L347.80,438.36 L348.30,442.20 L348.80,446.51 L349.30,451.20 L349.80,456.18 L350.30,461.39 L350.80,466.72 L351.30,472.10 L351.80,477.46 L352.30,482.69 L352.80,487.73 L353.30,492.48 L353.80,496.87 L354.30,500.81 L354.80,504.22 L355.30,507.02 L355.80,509.12 L356.30,510.44 L356.80,510.90 L357.30,510.36 L357.80,508.81 L358.30,506.32 L358.80,502.96 L359.30,498.82 L359.80,493.98 L360.30,488.51 L360.80,482.49 L361.30,476.00 L361.80,469.12 L362.30,461.93 L362.80,454.50 L363.30,446.91 L363.80,439.25 L364.30,431.59 L364.80,424.00 L365.30,416.57 L365.80,409.38 L366.30,402.50 L366.80,396.01 L367.30,389.99 L367.80,384.52 L368.30,379.68 L368.80,375.54 L369.30,372.18 L369.80,369.69 L370.30,368.14 L370.80,367.60 L371.30,368.19 L371.80,369.91 L372.30,372.66 L372.80,376.35 L373.30,380.89 L373.80,386.18 L374.30,392.15 L374.80,398.69 L375.30,405.71 L375.80,413.13 L376.30,420.85 L376.80,428.78 L377.30,436.83 L377.80,444.90 L378.30,452.91 L378.80,460.77 L379.30,468.38 L379.80,475.65 L380.30,482.49 L380.80,488.81 L381.30,494.52 L381.80,499.53 L382.30,503.74 L382.80,507.06 L383.30,509.41 L383.80,510.68 L384.30,510.83 L384.80,510.02 L385.30,508.39 L385.80,506.00 L386.30,502.95 L386.80,499.29 L387.30,495.11 L387.80,490.48 L388.30,485.48 L388.80,480.18 L389.30,474.67 L389.80,469.00 L390.30,463.28 L390.80,457.56 L391.30,451.92 L391.80,446.44 L392.30,441.20 L392.80,436.26 L393.30,431.72 L393.80,427.64 L394.30,424.09 L394.80,421.16 L395.30,418.92 L395.80,417.45 L396.30,416.82 L396.80,417.09 L397.30,418.24 L397.80,420.18 L398.30,422.84 L398.80,426.15 L399.30,430.03 L399.80,434.40 L400.30,439.18 L400.80,444.31 L401.30,449.70 L401.80,455.29 L402.30,460.98 L402.80,466.72 L403.30,472.41 L403.80,478.00 L404.30,483.39 L404.80,488.52 L405.30,493.30 L405.80,497.67 L406.30,501.55 L406.80,504.86 L407.30,507.52 L407.80,509.46 L408.30,510.61 L408.80,510.88 L409.30,510.34 L409.80,509.05 L410.30,507.06 L410.80,504.43 L411.30,501.19 L411.80,497.39 L412.30,493.08 L412.80,488.30 L413.30,483.11 L413.80,477.55 L414.30,471.66 L414.80,465.49 L415.30,459.09 L415.80,452.51 L416.30,445.78 L416.80,438.96 L417.30,432.10 L417.80,425.24 L418.30,418.42 L418.80,411.69 L419.30,405.11 L419.80,398.71 L420.30,392.54 L420.80,386.65 L421.30,381.09 L421.80,375.90 L422.30,371.12 L422.80,366.81 L423.30,363.01 L423.80,359.77 L424.30,357.14 L424.80,355.15 L425.30,353.86 L425.80,353.32 L426.30,353.40 L426.80,353.82 L427.30,354.55 L427.80,355.57 L428.30,356.87 L428.80,358.44 L429.30,360.27 L429.80,362.33 L430.30,364.63 L430.80,367.14 L431.30,369.85 L431.80,372.76 L432.30,375.84 L432.80,379.08 L433.30,382.47 L433.80,386.00 L434.30,389.65 L434.80,393.41 L435.30,397.27 L435.80,401.21 L436.30,405.23 L436.80,409.30 L437.30,413.42 L437.80,417.56 L438.30,421.73 L438.80,425.90 L439.30,430.07 L439.80,434.21 L440.30,438.32 L440.80,442.38 L441.30,446.38 L441.80,450.31 L442.30,454.15 L442.80,457.89 L443.30,461.52 L443.80,465.02 L444.30,468.38 L444.80,471.59 L445.30,474.64 L445.80,477.50 L446.30,480.18 L446.80,482.65 L447.30,484.90 L447.80,486.92 L448.30,488.69 L448.80,490.21 L449.30,491.46 L449.80,492.42 L450.30,493.09 L450.80,493.44 L451.30,493.48 L451.80,493.21 L452.30,492.66 L452.80,491.85 L453.30,490.78 L453.80,489.48 L454.30,487.94 L454.80,486.20 L455.30,484.26 L455.80,482.13 L456.30,479.83 L456.80,477.38 L457.30,474.79 L457.80,472.06 L458.30,469.23 L458.80,466.29 L459.30,463.27 L459.80,460.17 L460.30,457.02 L460.80,453.83 L461.30,450.60 L461.80,447.35 L462.30,444.11 L462.80,440.87 L463.30,437.67 L463.80,434.50 L464.30,431.37 L464.80,428.04 L465.30,424.38 L465.80,420.43 L466.30,416.21 L466.80,411.75 L467.30,407.07 L467.80,402.20 L468.30,397.16 L468.80,391.98 L469.30,386.69 L469.80,381.30 L470.30,375.86 L470.80,370.38 L471.30,364.88 L471.80,359.40 L472.30,353.96 L472.80,348.58 L473.30,343.29 L473.80,338.12 L474.30,333.10 L474.80,328.24 L475.30,323.57 L475.80,319.13 L476.30,314.92 L476.80,310.99 L477.30,307.36 L477.80,304.05 L478.30,301.08 L478.80,298.42 L479.30,295.79 L479.80,293.15 L480.30,290.52 L480.80,287.90 L481.30,285.30 L481.80,282.71 L482.30,280.14 L482.80,277.60 L483.30,275.08 L483.80,272.60 L484.30,270.16 L484.80,267.76 L485.30,265.41 L485.80,263.10 L486.30,260.85 L486.80,258.66 L487.30,256.53 L487.80,254.47 L488.30,252.48 L488.80,250.56 L489.30,248.72 L489.80,246.97 L490.30,245.30 L490.80,243.72 L491.30,242.24 L491.80,240.86 L492.30,239.58 L492.80,238.41 L493.30,237.35 L493.80,236.41 L494.30,235.59 L494.80,234.89 L495.30,234.32 L495.80,233.89 L496.30,233.59 L496.80,233.43 L497.30,233.41 L497.80,233.58 L498.30,233.92 L498.80,234.43 L499.30,235.11 L499.80,235.94 L500.30,236.93 L500.80,238.08 L501.30,239.36 L501.80,240.79 L502.30,242.34 L502.80,244.03 L503.30,245.84 L503.80,247.76 L504.30,249.80 L504.80,251.94 L505.30,254.18 L505.80,256.52 L506.30,258.95 L506.80,261.46 L507.30,264.06 L507.80,266.72 L508.30,269.46 L508.80,272.26 L509.30,275.11 L509.80,278.02 L510.30,280.97 L510.80,283.97 L511.30,287.00 L511.80,290.06 L512.30,293.15 L512.80,296.25 L513.30,299.37 L513.80,302.71 L514.30,306.65 L514.80,311.16 L515.30,316.18 L515.80,321.65 L516.30,327.52 L516.80,333.72 L517.30,340.21 L517.80,346.93 L518.30,353.82 L518.80,360.83 L519.30,367.90 L519.80,374.97 L520.30,381.99 L520.80,388.90 L521.30,395.64 L521.80,402.17 L522.30,408.41 L522.80,414.33 L523.30,419.86 L523.80,424.94 L524.30,429.52 L524.80,433.59 L525.30,437.61 L525.80,441.67 L526.30,445.77 L526.80,449.87 L527.30,453.97 L527.80,458.06 L528.30,462.10 L528.80,466.10 L529.30,470.02 L529.80,473.87 L530.30,477.61 L530.80,481.24 L531.30,484.74 L531.80,488.08 L532.30,491.27 L532.80,494.27 L533.30,497.08 L533.80,499.67 L534.30,502.04 L534.80,504.16 L535.30,506.03 L535.80,507.61 L536.30,508.91 L536.80,509.89 L537.30,510.55 L537.80,510.87 L538.30,510.88 L538.80,510.73 L539.30,510.47 L539.80,510.09 L540.30,509.61 L540.80,509.02 L541.30,508.34 L541.80,507.57 L542.30,506.72 L542.80,505.80 L543.30,504.82 L543.80,503.78 L544.30,502.68 L544.80,501.55 L545.30,500.37 L545.80,499.17 L546.30,497.94 L546.80,496.70 L547.30,495.45 L547.80,494.20 L548.30,492.95 L548.80,491.72 L549.30,490.50 L549.80,489.32 L550.30,488.17 L550.80,487.05 L551.30,485.99 L551.80,484.98 L552.30,484.04 L552.80,483.16 L553.30,482.36 L553.80,481.64 L554.30,481.02 L554.80,480.49 L555.30,480.07 L555.80,479.76 L556.30,479.57 L556.80,479.50 L557.30,479.53 L557.80,479.62 L558.30,479.76 L558.80,479.95 L559.30,480.19 L559.80,480.47 L560.30,480.79 L560.80,481.15 L561.30,481.53 L561.80,481.95 L562.30,482.40 L562.80,482.86 L563.30,483.35 L563.80,483.84 L564.30,484.36 L564.80,484.87 L565.30,485.40 L565.80,485.92 L566.30,486.44 L566.80,486.95 L567.30,487.46 L567.80,487.95 L568.30,488.42 L568.80,488.87 L569.30,489.30 L569.80,489.70 L570.30,490.07 L570.80,490.41 L571.30,490.71 L571.80,490.96 L572.30,491.17 L572.80,491.33 L573.30,491.44 L573.80,491.50 L574.30,491.48 L574.80,491.37 L575.30,491.16 L575.80,490.86 L576.30,490.48 L576.80,490.01 L577.30,489.47 L577.80,488.86 L578.30,488.19 L578.80,487.45 L579.30,486.66 L579.80,485.83 L580.30,484.95 L580.80,484.03 L581.30,483.08 L581.80,482.10 L582.30,481.10 L582.80,480.08 L583.30,479.05 L583.80,478.01 L584.30,476.95 L584.80,475.72 L585.30,474.34 L585.80,472.82 L586.30,471.15 L586.80,469.37 L587.30,467.47 L587.80,465.48 L588.30,463.39 L588.80,461.20 L589.30,458.71 L589.80,455.94 L590.30,452.94 L590.80,449.78 L591.30,446.54 L591.80,443.28 L592.30,440.06 L592.80,436.90 L593.30,433.67 L593.80,430.36 L594.30,427.04 L594.80,423.74 L595.30,420.50 L595.80,417.35 L596.30,414.22 L596.80,411.10 L597.30,408.04 L597.80,405.06 L598.30,402.19 L598.80,399.47 L599.30,396.81 L599.80,394.22 L600.30,391.72 L600.80,389.37 L601.30,387.20 L601.80,385.22 L602.30,383.22 L602.80,381.16 L603.30,379.08 L603.80,377.02 L604.30,375.02 L604.80,373.09 L605.30,371.30 L605.80,369.65 L606.30,368.20 L606.80,366.98 L607.30,366.02 L607.80,365.36 L608.30,365.03 L608.80,365.05 L609.30,365.32 L609.80,365.84 L610.30,366.57 L610.80,367.53 L611.30,368.67 L611.80,370.01 L612.30,371.52 L612.80,373.18 L613.30,375.00 L613.80,376.95 L614.30,379.01 L614.80,381.19 L615.30,383.50 L615.80,387.11 L616.30,392.09 L616.80,397.82 L617.30,403.68 L617.80,409.04 L618.30,413.50 L618.80,417.65 L619.30,421.62 L619.80,425.46 L620.30,429.22 L620.80,432.94 L621.30,436.58 L621.80,440.12 L622.30,443.58 L622.80,446.99 L623.30,450.38 L623.80,453.76 L624.30,457.16 L624.80,460.61 L625.30,464.12 L625.80,467.74 L626.30,471.84 L626.80,476.46 L627.30,481.40 L627.80,486.49 L628.30,491.54 L628.80,496.36 L629.30,500.76 L629.80,504.57 L630.30,507.60 L630.80,509.66 L631.30,510.57 L631.80,510.36 L632.30,509.43 L632.80,507.84 L633.30,505.64 L633.80,502.89 L634.30,499.64 L634.80,495.94 L635.30,491.84 L635.80,487.40 L636.30,482.68 L636.80,477.71 L637.30,472.56 L637.80,467.28 L638.30,461.93 L638.80,456.54 L639.30,451.18 L639.80,445.91 L640.30,440.76 L640.80,435.80 L641.30,431.06 L641.80,426.08 L642.30,420.65 L642.80,414.81 L643.30,408.61 L643.80,402.08 L644.30,395.27 L644.80,388.22 L645.30,380.97 L645.80,373.56 L646.30,366.04 L646.80,358.43 L647.30,350.80 L647.80,343.17 L648.30,335.59 L648.80,328.10 L649.30,320.75 L649.80,313.56 L650.30,306.60 L650.80,299.89 L651.30,293.47 L651.80,287.40 L652.30,281.71 L652.80,276.44 L653.30,271.64 L653.80,267.34 L654.30,263.59 L654.80,260.43 L655.30,257.90 L655.80,256.04 L656.30,254.89 L656.80,254.50 L657.30,254.83 L657.80,255.80 L658.30,257.38 L658.80,259.54 L659.30,262.23 L659.80,265.44 L660.30,269.13 L660.80,273.26 L661.30,277.80 L661.80,282.73 L662.30,288.00 L662.80,293.58 L663.30,299.45 L663.80,305.57 L664.30,311.91 L664.80,318.43 L665.30,325.11 L665.80,331.90 L666.30,338.78 L666.80,345.72 L667.30,352.68 L667.80,359.63 L668.30,366.54 L668.80,373.37 L669.30,380.09 L669.80,386.68 L670.30,393.09 L670.80,399.30 L671.30,405.26 L671.80,410.96 L672.30,416.36 L672.80,421.42 L673.30,426.11 L673.80,430.40 L674.30,434.37 L674.80,438.42 L675.30,442.58 L675.80,446.82 L676.30,451.12 L676.80,455.45 L677.30,459.79 L677.80,464.11 L678.30,468.39 L678.80,472.61 L679.30,476.73 L679.80,480.74 L680.30,484.60 L680.80,488.30 L681.30,491.81 L681.80,495.10 L682.30,498.15 L682.80,500.94 L683.30,503.43 L683.80,505.61 L684.30,507.45 L684.80,508.92 L685.30,510.00 L685.80,510.67 L686.30,510.90 L686.80,510.80 L687.30,510.51 L687.80,510.04 L688.30,509.39 L688.80,508.59 L689.30,507.63 L689.80,506.53 L690.30,505.30 L690.80,503.94 L691.30,502.47 L691.80,500.90 L692.30,499.23 L692.80,497.49 L693.30,495.66 L693.80,493.78 L694.30,491.84 L694.80,489.85 L695.30,487.83 L695.80,485.79 L696.30,483.73 L696.80,481.67 L697.30,479.61 L697.80,477.57 L698.30,475.55 L698.80,473.56 L699.30,471.62 L699.80,469.74 L700.30,467.91 L700.80,466.17 L701.30,464.50 L701.80,462.93 L702.30,461.46 L702.80,460.10 L703.30,458.87 L703.80,457.77 L704.30,456.81 L704.80,456.01 L705.30,455.36 L705.80,454.89 L706.30,454.60 L706.80,454.50 L707.30,454.56 L707.80,454.75 L708.30,455.06 L708.80,455.48 L709.30,456.01 L709.80,456.64 L710.30,457.37 L710.80,458.19 L711.30,459.09 L711.80,460.07 L712.30,461.13 L712.80,462.25 L713.30,463.43 L713.80,464.67 L714.30,465.97 L714.80,467.30 L715.30,468.68 L715.80,470.09 L716.30,471.53 L716.80,472.99 L717.30,474.46 L717.80,475.95 L718.30,477.44 L718.80,478.93 L719.30,480.42 L719.80,481.89 L720.30,483.35 L720.80,484.78 L721.30,486.18 L721.80,487.55 L722.30,488.88 L722.80,490.16 L723.30,491.39 L723.80,492.57 L724.30,493.68 L724.80,494.72 L725.30,495.69 L725.80,496.57 L726.30,497.37 L726.80,498.08 L727.30,498.69 L727.80,499.20 L728.30,499.60 L728.80,499.94 L729.30,500.28 L729.80,500.61 L730.30,500.94 L730.80,501.27 L731.30,501.59 L731.80,501.90 L732.30,502.21 L732.80,502.51 L733.30,502.80 L733.80,503.09 L734.30,503.36 L734.80,503.63 L735.30,503.88 L735.80,504.13 L736.30,504.36 L736.80,504.58 L737.30,504.80 L737.80,504.99 L738.30,505.18 L738.80,505.35 L739.30,505.51 L739.80,505.65 L740.30,505.78 L740.80,505.89 L741.30,505.99 L741.80,506.06 L742.30,506.13 L742.80,506.17 L743.30,506.19 L743.80,506.20 L744.30,506.18 L744.80,506.15 L745.30,506.09 L745.80,506.01 L746.30,505.92 L746.80,505.81 L747.30,505.68 L747.80,505.53 L748.30,505.37 L748.80,505.20 L749.30,505.01 L749.80,504.81 L750.30,504.60 L750.80,504.38 L751.30,504.15 L751.80,503.92 L752.30,503.67 L752.80,503.42 L753.30,503.16 L753.80,502.89 L754.30,502.63 L754.80,502.36 L755.30,502.08 L755.80,501.81 L756.30,501.54 L756.80,501.26 L757.30,500.99 L757.80,500.72 L758.30,500.45 L758.80,500.19 L759.30,499.93 L759.80,499.68 L760.30,499.44 L760.80,499.20 L761.30,498.97 L761.80,498.75 L762.30,498.55 L762.80,498.35 L763.30,498.16 L763.80,497.99 L764.30,497.84 L764.80,497.69 L765.30,497.57 L765.80,497.46 L766.30,497.37 L766.80,497.30 L767.30,497.24 L767.80,497.21 L768.30,497.20 L768.80,497.22 L769.30,497.29 L769.80,497.41 L770.30,497.57 L770.80,497.76 L771.30,497.99 L771.80,498.26 L772.30,498.56 L772.80,498.89 L773.30,499.25 L773.80,499.63 L774.30,500.03 L774.80,500.46 L775.30,500.90 L775.80,501.36 L776.30,501.83 L776.80,502.31 L777.30,502.80 L777.80,503.30 L778.30,503.80 L778.80,504.30 L779.30,504.80 L779.80,505.30 L780.30,505.79 L780.80,506.27 L781.30,506.74 L781.80,507.20 L782.30,507.64 L782.80,508.07 L783.30,508.47 L783.80,508.85 L784.30,509.21 L784.80,509.54 L785.30,509.84 L785.80,510.11 L786.30,510.34 L786.80,510.53 L787.30,510.69 L787.80,510.81 L788.30,510.88 L788.80,510.90 L789.30,510.83 L789.80,510.62 L790.30,510.28 L790.80,509.82 L791.30,509.22 L791.80,508.51 L792.30,507.69 L792.80,506.75 L793.30,505.71 L793.80,504.56 L794.30,503.32 L794.80,501.98 L795.30,500.56 L795.80,499.04 L796.30,497.45 L796.80,495.79 L797.30,494.05 L797.80,492.24 L798.30,490.37 L798.80,488.44 L799.30,486.46 L799.80,484.43 L800.30,482.35 L800.80,480.23 L801.30,478.08 L801.80,475.89 L802.30,473.67 L802.80,471.43 L803.30,469.17 L803.80,466.89 L804.30,464.60 L804.80,462.31 L805.30,460.02 L805.80,457.72 L806.30,455.44 L806.80,453.16 L807.30,450.90 L807.80,448.60 L808.30,446.07 L808.80,443.31 L809.30,440.36 L809.80,437.28 L810.30,434.10 L810.80,430.85 L811.30,427.59 L811.70,425.00" fill="none" stroke="#16ac0c" stroke-width="3" stroke-linejoin="round"/>
</g>
<path d="M142.71,563.0 V549.7 M142.71,39.5 V52.8 M269.74,563.0 V549.7 M269.74,39.5 V52.8 M396.78,563.0 V549.7 M396.78,39.5 V52.8 M523.81,563.0 V549.7 M523.81,39.5 V52.8 M650.85,563.0 V549.7 M650.85,39.5 V52.8 M777.88,563.0 V549.7 M777.88,39.5 V52.8 M104.6,542.00 H118.1 M841.4,542.00 H827.9 M104.6,481.82 H118.1 M841.4,481.82 H827.9 M104.6,421.64 H118.1 M841.4,421.64 H827.9 M104.6,361.46 H118.1 M841.4,361.46 H827.9 M104.6,301.28 H118.1 M841.4,301.28 H827.9 M104.6,241.10 H118.1 M841.4,241.10 H827.9 M104.6,180.92 H118.1 M841.4,180.92 H827.9 M104.6,120.74 H118.1 M841.4,120.74 H827.9 M104.6,60.56 H118.1 M841.4,60.56 H827.9" stroke="#000" stroke-width="2.6" fill="none"/>
<rect x="104.6" y="39.5" width="736.8" height="523.5" fill="none" stroke="#000" stroke-width="2.7"/>
<text class="t" x="92.7" y="548.9" text-anchor="end" textLength="47.7" lengthAdjust="spacingAndGlyphs">100</text>
<text class="t" x="92.7" y="488.7" text-anchor="end" textLength="47.7" lengthAdjust="spacingAndGlyphs">120</text>
<text class="t" x="92.7" y="428.5" text-anchor="end" textLength="47.7" lengthAdjust="spacingAndGlyphs">140</text>
<text class="t" x="92.7" y="368.4" text-anchor="end" textLength="47.7" lengthAdjust="spacingAndGlyphs">160</text>
<text class="t" x="92.7" y="308.2" text-anchor="end" textLength="47.7" lengthAdjust="spacingAndGlyphs">180</text>
<text class="t" x="92.7" y="248.0" text-anchor="end" textLength="47.7" lengthAdjust="spacingAndGlyphs">200</text>
<text class="t" x="92.7" y="187.8" text-anchor="end" textLength="47.7" lengthAdjust="spacingAndGlyphs">220</text>
<text class="t" x="92.7" y="127.6" text-anchor="end" textLength="47.7" lengthAdjust="spacingAndGlyphs">240</text>
<text class="t" x="92.7" y="67.5" text-anchor="end" textLength="47.7" lengthAdjust="spacingAndGlyphs">260</text>
<text class="t" x="142.7" y="596.4" text-anchor="middle" textLength="31.5" lengthAdjust="spacingAndGlyphs">15</text>
<text class="t" x="269.7" y="596.4" text-anchor="middle" textLength="31.5" lengthAdjust="spacingAndGlyphs">20</text>
<text class="t" x="396.8" y="596.4" text-anchor="middle" textLength="31.5" lengthAdjust="spacingAndGlyphs">25</text>
<text class="t" x="523.8" y="596.4" text-anchor="middle" textLength="31.5" lengthAdjust="spacingAndGlyphs">30</text>
<text class="t" x="650.8" y="596.4" text-anchor="middle" textLength="31.5" lengthAdjust="spacingAndGlyphs">35</text>
<text class="t" x="777.9" y="596.4" text-anchor="middle" textLength="31.5" lengthAdjust="spacingAndGlyphs">40</text>
<text class="a" x="434.1" y="636" textLength="21.3" lengthAdjust="spacingAndGlyphs">U</text>
<text class="a" x="466.4" y="636" textLength="45.0" lengthAdjust="spacingAndGlyphs">(V)</text>
<text class="a" transform="translate(25.8,422.4) rotate(-90)" textLength="77.5" lengthAdjust="spacingAndGlyphs">Count</text>
<text class="a" transform="translate(25.8,333.3) rotate(-90)" textLength="53.5" lengthAdjust="spacingAndGlyphs">rate</text>
<text class="a" transform="translate(25.8,275.8) rotate(-90)" textLength="96.2" lengthAdjust="spacingAndGlyphs">(cts/s)</text>
<text class="b" x="104.2" y="25.5">a<tspan dx="2" style="font-size:36px">)</tspan></text>
<text class="l" x="633.1" y="80.2" textLength="56.1" lengthAdjust="spacingAndGlyphs">data</text>
<text class="l" x="663.8" y="106.7" textLength="26.8" lengthAdjust="spacingAndGlyphs">fit</text>
<text class="l" x="523.9" y="132.8" textLength="78.7" lengthAdjust="spacingAndGlyphs">2-ions</text>
<text class="l" x="612.4" y="132.8" textLength="79.3" lengthAdjust="spacingAndGlyphs">incoh.</text>
<line x1="703.3" y1="74" x2="765.5" y2="74" stroke="#ec1a26" stroke-width="2.2"/>
<circle cx="734.6" cy="73.8" r="4.5" fill="#ec1a26"/>
<line x1="703.3" y1="99.9" x2="765.5" y2="99.9" stroke="#1822de" stroke-width="3"/>
<line x1="703.3" y1="126.6" x2="765.5" y2="126.6" stroke="#16ac0c" stroke-width="3"/>
<clipPath id="cb"><rect x="983.1" y="39.5" width="736.8000000000001" height="523.5"/></clipPath>
<g clip-path="url(#cb)">
<line x1="999.5" y1="529.5" x2="999.5" y2="560.5" stroke="#ec1a26" stroke-width="2.4"/>
<circle cx="999.5" cy="545.0" r="4.45" fill="#ec1a26"/>
<line x1="1011.5" y1="131.9" x2="1011.5" y2="169.1" stroke="#ec1a26" stroke-width="2.4"/>
<circle cx="1011.5" cy="150.5" r="4.45" fill="#ec1a26"/>
<line x1="1026.3" y1="471.0" x2="1026.3" y2="491.0" stroke="#ec1a26" stroke-width="2.4"/>
<circle cx="1026.3" cy="481.0" r="4.45" fill="#ec1a26"/>
<line x1="1037.5" y1="174.3" x2="1037.5" y2="206.3" stroke="#ec1a26" stroke-width="2.4"/>
<circle cx="1037.5" cy="190.3" r="4.45" fill="#ec1a26"/>
<line x1="1044.5" y1="460.0" x2="1044.5" y2="480.0" stroke="#ec1a26" stroke-width="2.4"/>
<circle cx="1044.5" cy="470.0" r="4.45" fill="#ec1a26"/>
<line x1="1056.5" y1="306.0" x2="1056.5" y2="336.0" stroke="#ec1a26" stroke-width="2.4"/>
<circle cx="1056.5" cy="321.0" r="4.45" fill="#ec1a26"/>
<line x1="1067.0" y1="494.5" x2="1067.0" y2="533.5" stroke="#ec1a26" stroke-width="2.4"/>
<circle cx="1067.0" cy="514.0" r="4.45" fill="#ec1a26"/>
<line x1="1116.3" y1="521.6" x2="1116.3" y2="547.6" stroke="#ec1a26" stroke-width="2.4"/>
<circle cx="1116.3" cy="534.6" r="4.45" fill="#ec1a26"/>
<line x1="1129.0" y1="298.4" x2="1129.0" y2="336.4" stroke="#ec1a26" stroke-width="2.4"/>
<circle cx="1129.0" cy="317.4" r="4.45" fill="#ec1a26"/>
<line x1="1142.9" y1="498.5" x2="1142.9" y2="512.5" stroke="#ec1a26" stroke-width="2.4"/>
<circle cx="1142.9" cy="505.5" r="4.45" fill="#ec1a26"/>
<line x1="1150.0" y1="438.4" x2="1150.0" y2="468.4" stroke="#ec1a26" stroke-width="2.4"/>
<circle cx="1150.0" cy="453.4" r="4.45" fill="#ec1a26"/>
<line x1="1160.8" y1="528.8" x2="1160.8" y2="546.8" stroke="#ec1a26" stroke-width="2.4"/>
<circle cx="1160.8" cy="537.8" r="4.45" fill="#ec1a26"/>
<line x1="1237.0" y1="514.4" x2="1237.0" y2="552.4" stroke="#ec1a26" stroke-width="2.4"/>
<circle cx="1237.0" cy="533.4" r="4.45" fill="#ec1a26"/>
<line x1="1249.7" y1="358.6" x2="1249.7" y2="376.6" stroke="#ec1a26" stroke-width="2.4"/>
<circle cx="1249.7" cy="367.6" r="4.45" fill="#ec1a26"/>
<line x1="1261.0" y1="497.8" x2="1261.0" y2="513.8" stroke="#ec1a26" stroke-width="2.4"/>
<circle cx="1261.0" cy="505.8" r="4.45" fill="#ec1a26"/>
<line x1="1274.9" y1="355.8" x2="1274.9" y2="393.8" stroke="#ec1a26" stroke-width="2.4"/>
<circle cx="1274.9" cy="374.8" r="4.45" fill="#ec1a26"/>
<line x1="1287.2" y1="480.4" x2="1287.2" y2="496.4" stroke="#ec1a26" stroke-width="2.4"/>
<circle cx="1287.2" cy="488.4" r="4.45" fill="#ec1a26"/>
<line x1="1300.7" y1="357.8" x2="1300.7" y2="371.8" stroke="#ec1a26" stroke-width="2.4"/>
<circle cx="1300.7" cy="364.8" r="4.45" fill="#ec1a26"/>
<line x1="1326.5" y1="507.0" x2="1326.5" y2="527.0" stroke="#ec1a26" stroke-width="2.4"/>
<circle cx="1326.5" cy="517.0" r="4.45" fill="#ec1a26"/>
<line x1="1351.3" y1="388.0" x2="1351.3" y2="408.0" stroke="#ec1a26" stroke-width="2.4"/>
<circle cx="1351.3" cy="398.0" r="4.45" fill="#ec1a26"/>
<line x1="1363.8" y1="307.7" x2="1363.8" y2="347.7" stroke="#ec1a26" stroke-width="2.4"/>
<circle cx="1363.8" cy="327.7" r="4.45" fill="#ec1a26"/>
<line x1="1375.8" y1="138.5" x2="1375.8" y2="174.5" stroke="#ec1a26" stroke-width="2.4"/>
<circle cx="1375.8" cy="156.5" r="4.45" fill="#ec1a26"/>
<line x1="1389.5" y1="174.3" x2="1389.5" y2="206.3" stroke="#ec1a26" stroke-width="2.4"/>
<circle cx="1389.5" cy="190.3" r="4.45" fill="#ec1a26"/>
<line x1="1396.0" y1="302.5" x2="1396.0" y2="338.5" stroke="#ec1a26" stroke-width="2.4"/>
<circle cx="1396.0" cy="320.5" r="4.45" fill="#ec1a26"/>
<line x1="1414.8" y1="534.2" x2="1414.8" y2="560.2" stroke="#ec1a26" stroke-width="2.4"/>
<circle cx="1414.8" cy="547.2" r="4.45" fill="#ec1a26"/>
<line x1="1440.2" y1="517.6" x2="1440.2" y2="559.6" stroke="#ec1a26" stroke-width="2.4"/>
<circle cx="1440.2" cy="538.6" r="4.45" fill="#ec1a26"/>
<line x1="1477.9" y1="368.7" x2="1477.9" y2="406.7" stroke="#ec1a26" stroke-width="2.4"/>
<circle cx="1477.9" cy="387.7" r="4.45" fill="#ec1a26"/>
<line x1="1503.5" y1="497.8" x2="1503.5" y2="517.8" stroke="#ec1a26" stroke-width="2.4"/>
<circle cx="1503.5" cy="507.8" r="4.45" fill="#ec1a26"/>
<line x1="1541.8" y1="228.0" x2="1541.8" y2="239.0" stroke="#ec1a26" stroke-width="2.4"/>
<circle cx="1541.8" cy="233.5" r="4.45" fill="#ec1a26"/>
<line x1="1567.5" y1="503.0" x2="1567.5" y2="523.0" stroke="#ec1a26" stroke-width="2.4"/>
<circle cx="1567.5" cy="513.0" r="4.45" fill="#ec1a26"/>
<line x1="1592.1" y1="422.1" x2="1592.1" y2="454.1" stroke="#ec1a26" stroke-width="2.4"/>
<circle cx="1592.1" cy="438.1" r="4.45" fill="#ec1a26"/>
<line x1="1605.4" y1="473.4" x2="1605.4" y2="503.4" stroke="#ec1a26" stroke-width="2.4"/>
<circle cx="1605.4" cy="488.4" r="4.45" fill="#ec1a26"/>
<line x1="1631.0" y1="516.8" x2="1631.0" y2="530.8" stroke="#ec1a26" stroke-width="2.4"/>
<circle cx="1631.0" cy="523.8" r="4.45" fill="#ec1a26"/>
<line x1="1656.0" y1="461.5" x2="1656.0" y2="481.5" stroke="#ec1a26" stroke-width="2.4"/>
<circle cx="1656.0" cy="471.5" r="4.45" fill="#ec1a26"/>
<line x1="1694.0" y1="272.0" x2="1694.0" y2="318.0" stroke="#ec1a26" stroke-width="2.4"/>
<circle cx="1694.0" cy="295.0" r="4.45" fill="#ec1a26"/>
<path d="M990.80,497.70 L991.30,505.31 L991.80,512.13 L992.30,517.85 L992.80,522.18 L993.30,524.81 L993.80,525.46 L994.30,524.30 L994.80,521.89 L995.30,518.71 L995.80,515.29 L996.30,512.11 L996.80,509.70 L997.30,508.54 L997.80,509.03 L998.30,510.91 L998.80,513.72 L999.30,517.00 L999.80,520.28 L1000.30,523.09 L1000.80,524.97 L1001.30,525.37 L1001.80,521.17 L1002.30,511.87 L1002.80,498.65 L1003.30,482.66 L1003.80,465.08 L1004.30,447.07 L1004.80,428.04 L1005.30,402.60 L1005.80,372.58 L1006.30,340.57 L1006.80,309.22 L1007.30,281.13 L1007.80,258.92 L1008.30,242.71 L1008.80,226.96 L1009.30,212.13 L1009.80,199.07 L1010.30,188.67 L1010.80,181.79 L1011.30,179.30 L1011.80,182.05 L1012.30,189.49 L1012.80,200.42 L1013.30,213.64 L1013.80,227.94 L1014.30,242.13 L1014.80,255.01 L1015.30,267.89 L1015.80,281.93 L1016.30,296.87 L1016.80,312.44 L1017.30,328.36 L1017.80,344.35 L1018.30,360.14 L1018.80,375.45 L1019.30,390.02 L1019.80,403.56 L1020.30,415.80 L1020.80,426.47 L1021.30,435.48 L1021.80,444.32 L1022.30,453.18 L1022.80,461.85 L1023.30,470.09 L1023.80,477.68 L1024.30,484.39 L1024.80,490.01 L1025.30,494.30 L1025.80,497.04 L1026.30,498.00 L1026.80,497.62 L1027.30,496.49 L1027.80,494.63 L1028.30,492.08 L1028.80,488.86 L1029.30,484.99 L1029.80,480.49 L1030.30,475.40 L1030.80,469.73 L1031.30,463.52 L1031.80,456.78 L1032.30,449.55 L1032.80,441.84 L1033.30,433.68 L1033.80,421.86 L1034.30,401.24 L1034.80,374.39 L1035.30,344.15 L1035.80,313.32 L1036.30,284.73 L1036.80,261.18 L1037.30,243.43 L1037.80,225.71 L1038.30,209.52 L1038.80,197.30 L1039.30,191.48 L1039.80,194.23 L1040.30,204.75 L1040.80,220.49 L1041.30,238.89 L1041.80,257.61 L1042.30,281.61 L1042.80,311.61 L1043.30,344.64 L1043.80,377.70 L1044.30,407.82 L1044.80,432.00 L1045.30,452.99 L1045.80,474.29 L1046.30,494.06 L1046.80,510.47 L1047.30,521.66 L1047.80,525.80 L1048.30,522.97 L1048.80,514.95 L1049.30,502.48 L1049.80,486.29 L1050.30,467.10 L1050.80,445.65 L1051.30,419.80 L1051.80,372.90 L1052.30,325.80 L1052.80,295.63 L1053.30,272.81 L1053.80,255.95 L1054.30,240.38 L1054.80,228.44 L1055.30,222.68 L1055.80,224.16 L1056.30,230.45 L1056.80,240.64 L1057.30,253.87 L1057.80,269.30 L1058.30,296.90 L1058.80,336.18 L1059.30,391.15 L1059.80,435.45 L1060.30,452.84 L1060.80,465.39 L1061.30,474.87 L1061.80,482.16 L1062.30,488.14 L1062.80,493.76 L1063.30,499.17 L1063.80,504.27 L1064.30,508.98 L1064.80,513.19 L1065.30,516.81 L1065.80,519.74 L1066.30,521.90 L1066.80,523.17 L1067.30,523.48 L1067.80,522.71 L1068.30,520.96 L1068.80,518.34 L1069.30,514.98 L1069.80,511.03 L1070.30,506.59 L1070.80,501.81 L1071.30,496.81 L1071.80,491.72 L1072.30,486.67 L1072.80,481.78 L1073.30,477.20 L1073.80,473.03 L1074.30,469.42 L1074.80,466.50 L1075.30,464.38 L1075.80,463.20 L1076.30,463.16 L1076.80,464.86 L1077.30,468.18 L1077.80,472.81 L1078.30,478.47 L1078.80,484.84 L1079.30,491.63 L1079.80,498.55 L1080.30,505.28 L1080.80,511.53 L1081.30,517.01 L1081.80,521.40 L1082.30,524.42 L1082.80,525.76 L1083.30,524.52 L1083.80,519.71 L1084.30,512.03 L1084.80,502.24 L1085.30,491.07 L1085.80,479.27 L1086.30,467.60 L1086.80,456.78 L1087.30,447.58 L1087.80,440.74 L1088.30,437.00 L1088.80,435.13 L1089.30,433.45 L1089.80,432.06 L1090.30,431.06 L1090.80,430.55 L1091.30,430.80 L1091.80,432.54 L1092.30,435.59 L1092.80,439.71 L1093.30,444.62 L1093.80,450.08 L1094.30,455.82 L1094.80,461.58 L1095.30,467.12 L1095.80,472.16 L1096.30,476.45 L1096.80,480.20 L1097.30,484.18 L1097.80,488.31 L1098.30,492.49 L1098.80,496.60 L1099.30,500.53 L1099.80,504.19 L1100.30,507.46 L1100.80,510.23 L1101.30,512.39 L1101.80,513.85 L1102.30,514.48 L1102.80,514.33 L1103.30,513.68 L1103.80,512.59 L1104.30,511.13 L1104.80,509.36 L1105.30,507.34 L1105.80,505.13 L1106.30,502.80 L1106.80,500.39 L1107.30,497.98 L1107.80,495.62 L1108.30,493.38 L1108.80,491.32 L1109.30,489.50 L1109.80,487.97 L1110.30,486.81 L1110.80,486.06 L1111.30,485.80 L1111.80,486.64 L1112.30,488.96 L1112.80,492.44 L1113.30,496.79 L1113.80,501.69 L1114.30,506.83 L1114.80,511.92 L1115.30,516.63 L1115.80,520.67 L1116.30,523.73 L1116.80,525.49 L1117.30,525.66 L1117.80,524.09 L1118.30,520.89 L1118.80,516.21 L1119.30,510.16 L1119.80,502.88 L1120.30,494.51 L1120.80,485.18 L1121.30,475.01 L1121.80,464.14 L1122.30,452.71 L1122.80,440.84 L1123.30,426.87 L1123.80,405.26 L1124.30,379.32 L1124.80,353.24 L1125.30,331.23 L1125.80,316.04 L1126.30,303.83 L1126.80,293.23 L1127.30,283.14 L1127.80,272.03 L1128.30,263.69 L1128.80,262.58 L1129.30,268.17 L1129.80,277.36 L1130.30,287.30 L1130.80,297.73 L1131.30,310.19 L1131.80,324.50 L1132.30,342.58 L1132.80,364.79 L1133.30,388.58 L1133.80,411.43 L1134.30,430.80 L1134.80,445.59 L1135.30,460.10 L1135.80,474.38 L1136.30,487.90 L1136.80,500.14 L1137.30,510.58 L1137.80,518.68 L1138.30,523.93 L1138.80,525.80 L1139.30,523.99 L1139.80,518.99 L1140.30,511.45 L1140.80,502.00 L1141.30,491.29 L1141.80,479.95 L1142.30,468.63 L1142.80,457.97 L1143.30,448.61 L1143.80,441.19 L1144.30,435.34 L1144.80,429.37 L1145.30,423.41 L1145.80,417.70 L1146.30,412.44 L1146.80,407.84 L1147.30,404.11 L1147.80,401.47 L1148.30,400.13 L1148.80,401.92 L1149.30,411.42 L1149.80,424.33 L1150.30,435.45 L1150.80,442.33 L1151.30,448.30 L1151.80,453.66 L1152.30,458.60 L1152.80,463.28 L1153.30,467.88 L1153.80,472.56 L1154.30,477.49 L1154.80,482.59 L1155.30,487.67 L1155.80,492.56 L1156.30,497.07 L1156.80,501.02 L1157.30,504.35 L1157.80,507.50 L1158.30,510.47 L1158.80,513.20 L1159.30,515.65 L1159.80,517.74 L1160.30,519.44 L1160.80,520.78 L1161.30,522.05 L1161.80,523.23 L1162.30,524.26 L1162.80,525.07 L1163.30,525.61 L1163.80,525.80 L1164.30,525.78 L1164.80,525.70 L1165.30,525.59 L1165.80,525.43 L1166.30,525.23 L1166.80,525.01 L1167.30,524.75 L1167.80,524.46 L1168.30,524.15 L1168.80,523.81 L1169.30,523.46 L1169.80,523.10 L1170.30,522.72 L1170.80,522.33 L1171.30,521.93 L1171.80,521.42 L1172.30,520.80 L1172.80,520.07 L1173.30,519.27 L1173.80,518.40 L1174.30,517.50 L1174.80,516.56 L1175.30,515.63 L1175.80,514.71 L1176.30,513.81 L1176.80,512.97 L1177.30,512.20 L1177.80,511.43 L1178.30,510.60 L1178.80,509.73 L1179.30,508.83 L1179.80,507.93 L1180.30,507.05 L1180.80,506.20 L1181.30,505.41 L1181.80,504.70 L1182.30,504.07 L1182.80,503.56 L1183.30,503.18 L1183.80,502.96 L1184.30,502.90 L1184.80,503.04 L1185.30,503.36 L1185.80,503.84 L1186.30,504.46 L1186.80,505.20 L1187.30,506.04 L1187.80,506.96 L1188.30,507.94 L1188.80,508.96 L1189.30,509.99 L1189.80,511.03 L1190.30,512.05 L1190.80,513.03 L1191.30,514.00 L1191.80,515.15 L1192.30,516.45 L1192.80,517.84 L1193.30,519.25 L1193.80,520.63 L1194.30,521.90 L1194.80,523.00 L1195.30,523.88 L1195.80,524.46 L1196.30,524.76 L1196.80,525.01 L1197.30,525.24 L1197.80,525.43 L1198.30,525.59 L1198.80,525.71 L1199.30,525.78 L1199.80,525.80 L1200.30,525.80 L1200.80,525.80 L1201.30,525.79 L1201.80,525.78 L1202.30,525.78 L1202.80,525.77 L1203.30,525.75 L1203.80,525.74 L1204.30,525.72 L1204.80,525.71 L1205.30,525.69 L1205.80,525.66 L1206.30,525.64 L1206.80,525.61 L1207.30,525.59 L1207.80,525.56 L1208.30,525.52 L1208.80,525.49 L1209.30,525.45 L1209.80,525.41 L1210.30,525.37 L1210.80,525.33 L1211.30,525.28 L1211.80,525.23 L1212.30,525.15 L1212.80,524.83 L1213.30,524.23 L1213.80,523.38 L1214.30,522.29 L1214.80,521.01 L1215.30,519.55 L1215.80,517.95 L1216.30,516.21 L1216.80,514.38 L1217.30,512.48 L1217.80,510.52 L1218.30,508.55 L1218.80,506.58 L1219.30,504.64 L1219.80,502.71 L1220.30,500.48 L1220.80,497.94 L1221.30,495.18 L1221.80,492.31 L1222.30,489.40 L1222.80,486.55 L1223.30,483.86 L1223.80,481.42 L1224.30,479.32 L1224.80,477.53 L1225.30,475.69 L1225.80,473.97 L1226.30,472.62 L1226.80,471.87 L1227.30,471.93 L1227.80,472.71 L1228.30,474.13 L1228.80,476.11 L1229.30,478.58 L1229.80,481.47 L1230.30,484.71 L1230.80,488.22 L1231.30,491.93 L1231.80,495.78 L1232.30,499.68 L1232.80,503.57 L1233.30,507.37 L1233.80,511.01 L1234.30,514.42 L1234.80,517.53 L1235.30,520.26 L1235.80,522.55 L1236.30,524.31 L1236.80,525.48 L1237.30,525.99 L1237.80,525.53 L1238.30,523.66 L1238.80,520.48 L1239.30,516.08 L1239.80,510.58 L1240.30,504.07 L1240.80,496.67 L1241.30,488.48 L1241.80,479.61 L1242.30,470.15 L1242.80,460.22 L1243.30,449.92 L1243.80,439.36 L1244.30,428.64 L1244.80,417.86 L1245.30,407.14 L1245.80,396.58 L1246.30,386.28 L1246.80,376.35 L1247.30,366.89 L1247.80,358.02 L1248.30,349.83 L1248.80,342.43 L1249.30,335.92 L1249.80,330.42 L1250.30,326.02 L1250.80,322.84 L1251.30,320.97 L1251.80,320.54 L1252.30,322.07 L1252.80,325.61 L1253.30,330.98 L1253.80,337.98 L1254.30,346.43 L1254.80,356.13 L1255.30,366.89 L1255.80,378.52 L1256.30,390.82 L1256.80,403.60 L1257.30,416.67 L1257.80,429.83 L1258.30,442.90 L1258.80,455.68 L1259.30,467.98 L1259.80,479.61 L1260.30,490.37 L1260.80,500.07 L1261.30,508.52 L1261.80,515.52 L1262.30,520.89 L1262.80,524.43 L1263.30,525.96 L1263.80,525.33 L1264.30,522.72 L1264.80,518.32 L1265.30,512.29 L1265.80,504.84 L1266.30,496.15 L1266.80,486.40 L1267.30,475.77 L1267.80,464.46 L1268.30,452.65 L1268.80,440.53 L1269.30,428.27 L1269.80,416.07 L1270.30,404.11 L1270.80,392.58 L1271.30,381.66 L1271.80,371.54 L1272.30,362.40 L1272.80,354.43 L1273.30,347.81 L1273.80,342.73 L1274.30,339.38 L1274.80,337.94 L1275.30,338.54 L1275.80,341.07 L1276.30,345.34 L1276.80,351.17 L1277.30,358.40 L1277.80,366.84 L1278.30,376.32 L1278.80,386.67 L1279.30,397.70 L1279.80,409.24 L1280.30,421.12 L1280.80,433.16 L1281.30,445.17 L1281.80,457.00 L1282.30,468.45 L1282.80,479.36 L1283.30,489.55 L1283.80,498.84 L1284.30,507.05 L1284.80,514.01 L1285.30,519.55 L1285.80,523.48 L1286.30,525.64 L1286.80,525.86 L1287.30,524.37 L1287.80,521.33 L1288.30,516.87 L1288.80,511.11 L1289.30,504.19 L1289.80,496.22 L1290.30,487.33 L1290.80,477.66 L1291.30,467.31 L1291.80,456.43 L1292.30,445.13 L1292.80,433.54 L1293.30,421.79 L1293.80,410.00 L1294.30,398.30 L1294.80,386.81 L1295.30,375.66 L1295.80,364.98 L1296.30,354.88 L1296.80,345.51 L1297.30,336.97 L1297.80,329.41 L1298.30,322.94 L1298.80,317.68 L1299.30,313.78 L1299.80,311.34 L1300.30,310.50 L1300.80,310.76 L1301.30,311.53 L1301.80,312.79 L1302.30,314.52 L1302.80,316.69 L1303.30,319.28 L1303.80,322.27 L1304.30,325.63 L1304.80,329.36 L1305.30,333.41 L1305.80,337.78 L1306.30,342.44 L1306.80,347.37 L1307.30,352.54 L1307.80,357.94 L1308.30,363.54 L1308.80,369.31 L1309.30,375.25 L1309.80,381.32 L1310.30,387.51 L1310.80,393.79 L1311.30,400.14 L1311.80,406.54 L1312.30,412.96 L1312.80,419.39 L1313.30,425.80 L1313.80,432.18 L1314.30,438.49 L1314.80,444.71 L1315.30,450.83 L1315.80,456.83 L1316.30,462.67 L1316.80,468.35 L1317.30,473.83 L1317.80,479.09 L1318.30,484.12 L1318.80,488.89 L1319.30,493.38 L1319.80,497.56 L1320.30,501.42 L1320.80,504.93 L1321.30,508.08 L1321.80,510.83 L1322.30,513.17 L1322.80,515.07 L1323.30,516.52 L1323.80,517.49 L1324.30,517.96 L1324.80,517.90 L1325.30,517.32 L1325.80,516.24 L1326.30,514.71 L1326.80,512.75 L1327.30,510.39 L1327.80,507.68 L1328.30,504.64 L1328.80,501.31 L1329.30,497.72 L1329.80,493.91 L1330.30,489.92 L1330.80,485.76 L1331.30,481.49 L1331.80,477.13 L1332.30,472.72 L1332.80,468.29 L1333.30,463.87 L1333.80,459.50 L1334.30,455.21 L1334.80,451.05 L1335.30,447.03 L1335.80,443.19 L1336.30,439.58 L1336.80,436.22 L1337.30,433.14 L1337.80,430.29 L1338.30,427.29 L1338.80,424.15 L1339.30,420.92 L1339.80,417.63 L1340.30,414.34 L1340.80,411.10 L1341.30,407.94 L1341.80,404.92 L1342.30,402.08 L1342.80,399.47 L1343.30,397.14 L1343.80,395.12 L1344.30,393.48 L1344.80,392.24 L1345.30,391.47 L1345.80,391.20 L1346.30,391.30 L1346.80,391.58 L1347.30,392.03 L1347.80,392.62 L1348.30,393.35 L1348.80,394.18 L1349.30,395.10 L1349.80,396.10 L1350.30,397.14 L1350.80,398.22 L1351.30,399.32 L1351.80,400.41 L1352.30,401.48 L1352.80,402.51 L1353.30,403.48 L1353.80,404.36 L1354.30,405.16 L1354.80,405.83 L1355.30,406.37 L1355.80,406.75 L1356.30,406.96 L1356.80,406.96 L1357.30,406.54 L1357.80,405.68 L1358.30,404.40 L1358.80,402.75 L1359.30,400.75 L1359.80,398.43 L1360.30,395.83 L1360.80,392.96 L1361.30,389.88 L1361.80,386.59 L1362.30,383.15 L1362.80,379.57 L1363.30,375.89 L1363.80,372.13 L1364.30,368.34 L1364.80,364.53 L1365.30,360.73 L1365.80,356.47 L1366.30,351.58 L1366.80,346.15 L1367.30,340.29 L1367.80,334.09 L1368.30,327.65 L1368.80,321.04 L1369.30,314.39 L1369.80,307.76 L1370.30,301.27 L1370.80,294.72 L1371.30,287.57 L1371.80,279.89 L1372.30,271.75 L1372.80,263.22 L1373.30,254.38 L1373.80,245.29 L1374.30,236.03 L1374.80,226.67 L1375.30,217.29 L1375.80,207.96 L1376.30,198.75 L1376.80,189.73 L1377.30,180.97 L1377.80,172.56 L1378.30,164.56 L1378.80,157.04 L1379.30,150.08 L1379.80,143.76 L1380.30,138.13 L1380.80,133.28 L1381.30,129.28 L1381.80,126.20 L1382.30,124.11 L1382.80,123.09 L1383.30,123.23 L1383.80,124.57 L1384.30,127.07 L1384.80,130.65 L1385.30,135.24 L1385.80,140.76 L1386.30,147.15 L1386.80,154.34 L1387.30,162.24 L1387.80,170.80 L1388.30,179.93 L1388.80,189.57 L1389.30,199.64 L1389.80,210.08 L1390.30,220.81 L1390.80,231.75 L1391.30,242.84 L1391.80,254.01 L1392.30,265.19 L1392.80,276.29 L1393.30,287.26 L1393.80,298.01 L1394.30,308.48 L1394.80,318.60 L1395.30,328.29 L1395.80,337.48 L1396.30,346.30 L1396.80,355.48 L1397.30,364.96 L1397.80,374.61 L1398.30,384.27 L1398.80,393.81 L1399.30,403.08 L1399.80,411.94 L1400.30,420.24 L1400.80,427.84 L1401.30,434.68 L1401.80,441.52 L1402.30,448.49 L1402.80,455.51 L1403.30,462.55 L1403.80,469.52 L1404.30,476.36 L1404.80,483.02 L1405.30,489.43 L1405.80,495.53 L1406.30,501.26 L1406.80,506.54 L1407.30,511.33 L1407.80,515.55 L1408.30,519.14 L1408.80,522.05 L1409.30,524.20 L1409.80,525.54 L1410.30,526.00 L1410.80,525.94 L1411.30,525.78 L1411.80,525.52 L1412.30,525.17 L1412.80,524.75 L1413.30,524.26 L1413.80,523.71 L1414.30,523.11 L1414.80,522.47 L1415.30,521.81 L1415.80,521.12 L1416.30,520.43 L1416.80,519.74 L1417.30,519.06 L1417.80,518.40 L1418.30,517.77 L1418.80,517.18 L1419.30,516.64 L1419.80,516.16 L1420.30,515.75 L1420.80,515.42 L1421.30,515.18 L1421.80,515.04 L1422.30,515.00 L1422.80,515.03 L1423.30,515.11 L1423.80,515.22 L1424.30,515.37 L1424.80,515.55 L1425.30,515.76 L1425.80,516.00 L1426.30,516.27 L1426.80,516.56 L1427.30,516.86 L1427.80,517.19 L1428.30,517.52 L1428.80,517.87 L1429.30,518.22 L1429.80,518.58 L1430.30,518.94 L1430.80,519.30 L1431.30,519.66 L1431.80,520.01 L1432.30,520.35 L1432.80,520.67 L1433.30,520.98 L1433.80,521.27 L1434.30,521.54 L1434.80,521.79 L1435.30,522.01 L1435.80,522.20 L1436.30,522.35 L1436.80,522.48 L1437.30,522.56 L1437.80,522.60 L1438.30,522.59 L1438.80,522.51 L1439.30,522.37 L1439.80,522.17 L1440.30,521.93 L1440.80,521.65 L1441.30,521.33 L1441.80,520.99 L1442.30,520.64 L1442.80,520.27 L1443.30,519.80 L1443.80,519.23 L1444.30,518.57 L1444.80,517.83 L1445.30,517.00 L1445.80,516.08 L1446.30,515.10 L1446.80,514.03 L1447.30,512.90 L1447.80,511.71 L1448.30,510.45 L1448.80,509.14 L1449.30,507.72 L1449.80,505.97 L1450.30,503.92 L1450.80,501.59 L1451.30,499.03 L1451.80,496.26 L1452.30,493.32 L1452.80,490.25 L1453.30,487.09 L1453.80,483.88 L1454.30,480.64 L1454.80,477.41 L1455.30,474.23 L1455.80,471.14 L1456.30,468.18 L1456.80,465.27 L1457.30,462.26 L1457.80,459.16 L1458.30,456.00 L1458.80,452.80 L1459.30,449.57 L1459.80,446.36 L1460.30,443.17 L1460.80,440.04 L1461.30,436.98 L1461.80,434.02 L1462.30,431.18 L1462.80,428.49 L1463.30,425.97 L1463.80,423.64 L1464.30,421.45 L1464.80,419.27 L1465.30,417.14 L1465.80,415.11 L1466.30,413.23 L1466.80,411.53 L1467.30,410.07 L1467.80,408.88 L1468.30,407.97 L1468.80,407.09 L1469.30,406.26 L1469.80,405.47 L1470.30,404.76 L1470.80,404.13 L1471.30,403.60 L1471.80,403.19 L1472.30,402.92 L1472.80,402.80 L1473.30,402.85 L1473.80,403.03 L1474.30,403.33 L1474.80,403.75 L1475.30,404.26 L1475.80,404.86 L1476.30,405.53 L1476.80,406.26 L1477.30,407.03 L1477.80,407.84 L1478.30,408.67 L1478.80,409.73 L1479.30,411.06 L1479.80,412.63 L1480.30,414.38 L1480.80,416.26 L1481.30,418.23 L1481.80,420.23 L1482.30,422.22 L1482.80,424.19 L1483.30,426.26 L1483.80,428.46 L1484.30,430.75 L1484.80,433.12 L1485.30,435.57 L1485.80,438.07 L1486.30,440.62 L1486.80,443.20 L1487.30,445.79 L1487.80,448.39 L1488.30,450.98 L1488.80,453.54 L1489.30,456.06 L1489.80,458.53 L1490.30,460.93 L1490.80,463.25 L1491.30,465.48 L1491.80,467.60 L1492.30,469.63 L1492.80,471.61 L1493.30,473.53 L1493.80,475.42 L1494.30,477.26 L1494.80,479.07 L1495.30,480.86 L1495.80,482.62 L1496.30,484.37 L1496.80,486.11 L1497.30,487.84 L1497.80,489.58 L1498.30,491.33 L1498.80,493.09 L1499.30,494.87 L1499.80,496.67 L1500.30,498.52 L1500.80,500.47 L1501.30,502.47 L1501.80,504.50 L1502.30,506.51 L1502.80,508.45 L1503.30,510.28 L1503.80,511.97 L1504.30,513.46 L1504.80,514.78 L1505.30,516.11 L1505.80,517.46 L1506.30,518.79 L1506.80,520.08 L1507.30,521.31 L1507.80,522.44 L1508.30,523.47 L1508.80,524.35 L1509.30,525.07 L1509.80,525.60 L1510.30,525.92 L1510.80,526.00 L1511.30,525.83 L1511.80,525.45 L1512.30,524.87 L1512.80,524.10 L1513.30,523.18 L1513.80,522.10 L1514.30,520.90 L1514.80,519.59 L1515.30,518.19 L1515.80,516.72 L1516.30,515.19 L1516.80,513.63 L1517.30,511.94 L1517.80,509.75 L1518.30,507.12 L1518.80,504.18 L1519.30,501.06 L1519.80,497.88 L1520.30,494.77 L1520.80,491.71 L1521.30,488.42 L1521.80,484.64 L1522.30,479.93 L1522.80,473.31 L1523.30,465.61 L1523.80,458.01 L1524.30,451.58 L1524.80,445.86 L1525.30,440.46 L1525.80,435.18 L1526.30,429.84 L1526.80,424.24 L1527.30,418.38 L1527.80,412.30 L1528.30,406.03 L1528.80,399.59 L1529.30,393.01 L1529.80,386.33 L1530.30,379.58 L1530.80,372.78 L1531.30,365.96 L1531.80,359.16 L1532.30,352.39 L1532.80,345.70 L1533.30,339.12 L1533.80,332.66 L1534.30,326.37 L1534.80,320.26 L1535.30,314.38 L1535.80,308.75 L1536.30,303.40 L1536.80,298.36 L1537.30,293.65 L1537.80,289.32 L1538.30,285.39 L1538.80,281.88 L1539.30,278.83 L1539.80,276.27 L1540.30,274.23 L1540.80,272.73 L1541.30,271.81 L1541.80,271.50 L1542.30,271.88 L1542.80,272.98 L1543.30,274.76 L1543.80,277.20 L1544.30,280.23 L1544.80,283.83 L1545.30,287.95 L1545.80,292.56 L1546.30,297.60 L1546.80,303.05 L1547.30,308.86 L1547.80,314.99 L1548.30,321.40 L1548.80,328.04 L1549.30,334.89 L1549.80,341.90 L1550.30,349.02 L1550.80,356.22 L1551.30,363.46 L1551.80,370.69 L1552.30,377.89 L1552.80,384.99 L1553.30,391.97 L1553.80,398.79 L1554.30,405.40 L1554.80,411.76 L1555.30,417.84 L1555.80,423.58 L1556.30,428.97 L1556.80,434.00 L1557.30,439.24 L1557.80,444.77 L1558.30,450.52 L1558.80,456.45 L1559.30,462.49 L1559.80,468.58 L1560.30,474.66 L1560.80,480.67 L1561.30,486.56 L1561.80,492.26 L1562.30,497.71 L1562.80,502.86 L1563.30,507.65 L1563.80,512.01 L1564.30,515.89 L1564.80,519.23 L1565.30,521.97 L1565.80,524.05 L1566.30,525.40 L1566.80,525.98 L1567.30,525.82 L1567.80,525.11 L1568.30,523.88 L1568.80,522.19 L1569.30,520.05 L1569.80,517.50 L1570.30,514.58 L1570.80,511.33 L1571.30,507.77 L1571.80,503.95 L1572.30,499.89 L1572.80,495.63 L1573.30,491.21 L1573.80,486.66 L1574.30,482.01 L1574.80,477.30 L1575.30,472.57 L1575.80,467.85 L1576.30,463.16 L1576.80,458.56 L1577.30,454.07 L1577.80,449.72 L1578.30,445.56 L1578.80,441.61 L1579.30,437.91 L1579.80,434.50 L1580.30,431.40 L1580.80,428.22 L1581.30,424.83 L1581.80,421.32 L1582.30,417.75 L1582.80,414.22 L1583.30,410.79 L1583.80,407.54 L1584.30,404.56 L1584.80,401.92 L1585.30,399.70 L1585.80,397.97 L1586.30,396.81 L1586.80,396.31 L1587.30,396.48 L1587.80,397.17 L1588.30,398.34 L1588.80,399.94 L1589.30,401.91 L1589.80,404.21 L1590.30,406.77 L1590.80,409.56 L1591.30,412.51 L1591.80,415.58 L1592.30,418.72 L1592.80,421.87 L1593.30,424.98 L1593.80,428.01 L1594.30,430.90 L1594.80,433.68 L1595.30,436.66 L1595.80,439.86 L1596.30,443.25 L1596.80,446.81 L1597.30,450.50 L1597.80,454.31 L1598.30,458.22 L1598.80,462.18 L1599.30,466.19 L1599.80,470.21 L1600.30,474.22 L1600.80,478.20 L1601.30,482.11 L1601.80,485.94 L1602.30,489.66 L1602.80,493.24 L1603.30,496.67 L1603.80,499.90 L1604.30,502.93 L1604.80,505.71 L1605.30,508.24 L1605.80,510.48 L1606.30,512.41 L1606.80,514.00 L1607.30,515.42 L1607.80,516.83 L1608.30,518.21 L1608.80,519.54 L1609.30,520.80 L1609.80,521.97 L1610.30,523.03 L1610.80,523.96 L1611.30,524.75 L1611.80,525.36 L1612.30,525.77 L1612.80,525.98 L1613.30,525.99 L1613.80,525.93 L1614.30,525.82 L1614.80,525.66 L1615.30,525.47 L1615.80,525.25 L1616.30,525.00 L1616.80,524.73 L1617.30,524.45 L1617.80,524.16 L1618.30,523.87 L1618.80,523.58 L1619.30,523.31 L1619.80,523.05 L1620.30,522.82 L1620.80,522.61 L1621.30,522.44 L1621.80,522.31 L1622.30,522.23 L1622.80,522.20 L1623.30,522.22 L1623.80,522.29 L1624.30,522.40 L1624.80,522.55 L1625.30,522.73 L1625.80,522.93 L1626.30,523.15 L1626.80,523.40 L1627.30,523.65 L1627.80,523.91 L1628.30,524.18 L1628.80,524.44 L1629.30,524.70 L1629.80,524.95 L1630.30,525.18 L1630.80,525.40 L1631.30,525.58 L1631.80,525.74 L1632.30,525.87 L1632.80,525.95 L1633.30,526.00 L1633.80,525.97 L1634.30,525.82 L1634.80,525.54 L1635.30,525.13 L1635.80,524.60 L1636.30,523.96 L1636.80,523.22 L1637.30,522.38 L1637.80,521.44 L1638.30,520.43 L1638.80,519.33 L1639.30,518.16 L1639.80,516.92 L1640.30,515.63 L1640.80,514.28 L1641.30,512.89 L1641.80,511.46 L1642.30,509.99 L1642.80,508.50 L1643.30,507.00 L1643.80,505.47 L1644.30,503.95 L1644.80,502.42 L1645.30,500.90 L1645.80,499.40 L1646.30,497.91 L1646.80,496.45 L1647.30,495.03 L1647.80,493.65 L1648.30,492.31 L1648.80,491.03 L1649.30,489.80 L1649.80,488.65 L1650.30,487.56 L1650.80,486.56 L1651.30,485.65 L1651.80,484.82 L1652.30,484.10 L1652.80,483.48 L1653.30,482.98 L1653.80,482.59 L1654.30,482.34 L1654.80,482.21 L1655.30,482.24 L1655.80,482.47 L1656.30,482.90 L1656.80,483.51 L1657.30,484.29 L1657.80,485.24 L1658.30,486.33 L1658.80,487.55 L1659.30,488.90 L1659.80,490.36 L1660.30,491.92 L1660.80,493.56 L1661.30,495.27 L1661.80,497.04 L1662.30,498.86 L1662.80,500.71 L1663.30,502.59 L1663.80,504.48 L1664.30,506.36 L1664.80,508.23 L1665.30,510.07 L1665.80,511.88 L1666.30,513.62 L1666.80,515.31 L1667.30,516.92 L1667.80,518.43 L1668.30,519.85 L1668.80,521.15 L1669.30,522.32 L1669.80,523.36 L1670.30,524.24 L1670.80,524.96 L1671.30,525.50 L1671.80,525.85 L1672.30,526.00 L1672.80,525.82 L1673.30,525.09 L1673.80,523.85 L1674.30,522.11 L1674.80,519.92 L1675.30,517.31 L1675.80,514.31 L1676.30,510.95 L1676.80,507.27 L1677.30,503.30 L1677.80,499.07 L1678.30,494.62 L1678.80,489.97 L1679.30,485.16 L1679.80,480.23 L1680.30,475.20 L1680.80,470.11 L1681.30,464.99 L1681.80,459.88 L1682.30,454.80 L1682.80,449.80 L1683.30,444.90 L1683.80,440.13 L1684.30,435.53 L1684.80,431.13 L1685.30,426.72 L1685.80,422.19 L1686.30,417.56 L1686.80,412.83 L1687.30,408.02 L1687.80,403.13 L1688.30,398.18 L1688.80,393.16 L1689.30,388.10 L1689.80,383.00 L1690.20,378.90" fill="none" stroke="#1822de" stroke-width="3" stroke-linejoin="round"/>
<path d="M990.60,502.20 L991.10,492.29 L991.60,483.54 L992.10,475.88 L992.60,469.24 L993.10,463.55 L993.60,458.75 L994.10,454.76 L994.60,451.51 L995.10,448.93 L995.60,446.95 L996.10,445.50 L996.60,444.51 L997.10,443.92 L997.60,443.64 L998.10,443.93 L998.60,447.38 L999.10,453.82 L999.60,462.31 L1000.10,471.93 L1000.60,481.72 L1001.10,490.78 L1001.60,498.15 L1002.10,502.91 L1002.60,504.12 L1003.10,501.54 L1003.60,495.62 L1004.10,486.80 L1004.60,475.51 L1005.10,462.20 L1005.60,447.31 L1006.10,431.28 L1006.60,414.55 L1007.10,397.55 L1007.60,380.72 L1008.10,364.52 L1008.60,349.36 L1009.10,335.70 L1009.60,323.98 L1010.10,314.63 L1010.60,308.09 L1011.10,304.80 L1011.60,304.71 L1012.10,305.93 L1012.60,308.20 L1013.10,311.44 L1013.60,315.58 L1014.10,320.54 L1014.60,326.26 L1015.10,332.66 L1015.60,339.66 L1016.10,347.20 L1016.60,355.21 L1017.10,363.60 L1017.60,372.32 L1018.10,381.28 L1018.60,390.41 L1019.10,399.64 L1019.60,408.91 L1020.10,418.13 L1020.60,427.23 L1021.10,436.15 L1021.60,444.80 L1022.10,453.13 L1022.60,461.04 L1023.10,468.48 L1023.60,475.37 L1024.10,481.64 L1024.60,487.21 L1025.10,492.01 L1025.60,495.98 L1026.10,499.03 L1026.60,501.10 L1027.10,502.11 L1027.60,501.86 L1028.10,499.87 L1028.60,496.22 L1029.10,491.06 L1029.60,484.55 L1030.10,476.83 L1030.60,468.07 L1031.10,458.41 L1031.60,448.00 L1032.10,437.00 L1032.60,425.56 L1033.10,413.83 L1033.60,401.96 L1034.10,390.11 L1034.60,378.42 L1035.10,367.06 L1035.60,356.17 L1036.10,345.90 L1036.60,336.40 L1037.10,327.83 L1037.60,320.35 L1038.10,314.10 L1038.60,309.23 L1039.10,305.89 L1039.60,304.25 L1040.10,305.06 L1040.60,310.59 L1041.10,320.42 L1041.60,333.78 L1042.10,349.96 L1042.60,368.20 L1043.10,387.78 L1043.60,407.94 L1044.10,427.96 L1044.60,447.09 L1045.10,464.60 L1045.60,479.74 L1046.10,491.78 L1046.60,499.98 L1047.10,503.59 L1047.60,500.74 L1048.10,489.39 L1048.60,470.67 L1049.10,445.82 L1049.60,416.06 L1050.10,382.62 L1050.60,346.72 L1051.10,309.60 L1051.60,272.48 L1052.10,236.58 L1052.60,203.14 L1053.10,173.38 L1053.60,148.53 L1054.10,129.81 L1054.60,118.46 L1055.10,115.58 L1055.60,118.20 L1056.10,124.30 L1056.60,133.57 L1057.10,145.67 L1057.60,160.30 L1058.10,177.12 L1058.60,195.81 L1059.10,216.05 L1059.60,237.52 L1060.10,259.89 L1060.60,282.84 L1061.10,306.05 L1061.60,329.19 L1062.10,351.95 L1062.60,374.00 L1063.10,395.01 L1063.60,414.67 L1064.10,432.65 L1064.60,448.63 L1065.10,462.29 L1065.60,473.30 L1066.10,481.34 L1066.60,486.09 L1067.10,487.27 L1067.60,486.31 L1068.10,484.10 L1068.60,480.79 L1069.10,476.54 L1069.60,471.50 L1070.10,465.83 L1070.60,459.68 L1071.10,453.21 L1071.60,446.57 L1072.10,439.91 L1072.60,433.39 L1073.10,427.16 L1073.60,421.38 L1074.10,416.21 L1074.60,411.79 L1075.10,408.28 L1075.60,405.84 L1076.10,404.61 L1076.60,404.94 L1077.10,407.49 L1077.60,412.03 L1078.10,418.23 L1078.60,425.77 L1079.10,434.31 L1079.60,443.54 L1080.10,453.13 L1080.60,462.76 L1081.10,472.09 L1081.60,480.80 L1082.10,488.56 L1082.60,495.05 L1083.10,499.95 L1083.60,502.92 L1084.10,503.67 L1084.60,502.70 L1085.10,500.50 L1085.60,497.26 L1086.10,493.18 L1086.60,488.44 L1087.10,483.24 L1087.60,477.77 L1088.10,472.22 L1088.60,466.79 L1089.10,461.67 L1089.60,457.04 L1090.10,453.11 L1090.60,450.07 L1091.10,448.10 L1091.60,447.40 L1092.10,447.77 L1092.60,448.84 L1093.10,450.52 L1093.60,452.75 L1094.10,455.44 L1094.60,458.54 L1095.10,461.95 L1095.60,465.61 L1096.10,469.44 L1096.60,473.36 L1097.10,477.31 L1097.60,481.21 L1098.10,484.98 L1098.60,488.55 L1099.10,491.84 L1099.60,494.79 L1100.10,497.30 L1100.60,499.32 L1101.10,500.77 L1101.60,501.56 L1102.10,501.67 L1102.60,501.33 L1103.10,500.65 L1103.60,499.67 L1104.10,498.44 L1104.60,497.00 L1105.10,495.40 L1105.60,493.67 L1106.10,491.87 L1106.60,490.03 L1107.10,488.20 L1107.60,486.42 L1108.10,484.74 L1108.60,483.20 L1109.10,481.84 L1109.60,480.71 L1110.10,479.84 L1110.60,479.29 L1111.10,479.10 L1111.60,479.59 L1112.10,480.94 L1112.60,482.98 L1113.10,485.55 L1113.60,488.48 L1114.10,491.59 L1114.60,494.71 L1115.10,497.69 L1115.60,500.34 L1116.10,502.50 L1116.60,504.01 L1117.10,504.68 L1117.60,503.73 L1118.10,499.93 L1118.60,493.53 L1119.10,484.80 L1119.60,474.03 L1120.10,461.49 L1120.60,447.47 L1121.10,432.24 L1121.60,416.09 L1122.10,399.29 L1122.60,382.13 L1123.10,364.88 L1123.60,347.83 L1124.10,331.26 L1124.60,315.44 L1125.10,300.66 L1125.60,287.20 L1126.10,275.33 L1126.60,265.34 L1127.10,257.51 L1127.60,252.12 L1128.10,249.45 L1128.60,249.81 L1129.10,253.42 L1129.60,259.98 L1130.10,269.15 L1130.60,280.61 L1131.10,294.02 L1131.60,309.05 L1132.10,325.37 L1132.60,342.65 L1133.10,360.57 L1133.60,378.77 L1134.10,396.95 L1134.60,414.76 L1135.10,431.88 L1135.60,447.97 L1136.10,462.71 L1136.60,475.75 L1137.10,486.78 L1137.60,495.45 L1138.10,501.44 L1138.60,504.43 L1139.10,504.26 L1139.60,501.72 L1140.10,497.15 L1140.60,490.84 L1141.10,483.06 L1141.60,474.09 L1142.10,464.23 L1142.60,453.75 L1143.10,442.93 L1143.60,432.05 L1144.10,421.40 L1144.60,411.26 L1145.10,401.90 L1145.60,393.62 L1146.10,386.68 L1146.60,381.38 L1147.10,377.99 L1147.60,376.80 L1148.10,378.23 L1148.60,382.12 L1149.10,387.86 L1149.60,394.86 L1150.10,402.49 L1150.60,410.18 L1151.10,417.30 L1151.60,424.02 L1152.10,431.33 L1152.60,438.63 L1153.10,445.30 L1153.60,451.17 L1154.10,456.84 L1154.60,462.20 L1155.10,467.13 L1155.60,471.50 L1156.10,475.19 L1156.60,478.51 L1157.10,481.62 L1157.60,484.50 L1158.10,487.11 L1158.60,489.43 L1159.10,491.44 L1159.60,493.10 L1160.10,494.53 L1160.60,495.87 L1161.10,497.11 L1161.60,498.24 L1162.10,499.27 L1162.60,500.20 L1163.10,501.01 L1163.60,501.71 L1164.10,502.30 L1164.60,502.80 L1165.10,503.30 L1165.60,503.76 L1166.10,504.18 L1166.60,504.53 L1167.10,504.80 L1167.60,504.96 L1168.10,505.00 L1168.60,504.96 L1169.10,504.87 L1169.60,504.73 L1170.10,504.55 L1170.60,504.33 L1171.10,504.06 L1171.60,503.77 L1172.10,503.44 L1172.60,503.09 L1173.10,502.72 L1173.60,502.32 L1174.10,501.92 L1174.60,501.49 L1175.10,501.06 L1175.60,500.63 L1176.10,500.20 L1176.60,499.76 L1177.10,499.34 L1177.60,498.92 L1178.10,498.52 L1178.60,498.13 L1179.10,497.76 L1179.60,497.42 L1180.10,497.11 L1180.60,496.83 L1181.10,496.58 L1181.60,496.37 L1182.10,496.21 L1182.60,496.09 L1183.10,496.02 L1183.60,496.00 L1184.10,496.09 L1184.60,496.28 L1185.10,496.57 L1185.60,496.95 L1186.10,497.40 L1186.60,497.92 L1187.10,498.49 L1187.60,499.10 L1188.10,499.73 L1188.60,500.39 L1189.10,501.04 L1189.60,501.69 L1190.10,502.33 L1190.60,502.93 L1191.10,503.49 L1191.60,503.99 L1192.10,504.43 L1192.60,504.79 L1193.10,505.07 L1193.60,505.24 L1194.10,505.30 L1194.60,505.24 L1195.10,505.08 L1195.60,504.82 L1196.10,504.48 L1196.60,504.07 L1197.10,503.59 L1197.60,503.06 L1198.10,502.48 L1198.60,501.88 L1199.10,501.25 L1199.60,500.62 L1200.10,499.99 L1200.60,499.36 L1201.10,498.77 L1201.60,498.20 L1202.10,497.68 L1202.60,497.21 L1203.10,496.81 L1203.60,496.48 L1204.10,496.19 L1204.60,495.94 L1205.10,495.72 L1205.60,495.51 L1206.10,495.32 L1206.60,495.12 L1207.10,494.92 L1207.60,494.70 L1208.10,494.45 L1208.60,494.18 L1209.10,493.86 L1209.60,493.50 L1210.10,493.06 L1210.60,492.53 L1211.10,491.91 L1211.60,491.20 L1212.10,490.41 L1212.60,489.55 L1213.10,488.61 L1213.60,487.59 L1214.10,486.52 L1214.60,485.37 L1215.10,484.17 L1215.60,482.92 L1216.10,481.56 L1216.60,479.92 L1217.10,478.02 L1217.60,475.90 L1218.10,473.62 L1218.60,471.21 L1219.10,468.72 L1219.60,466.20 L1220.10,463.41 L1220.60,460.14 L1221.10,456.47 L1221.60,452.48 L1222.10,448.26 L1222.60,443.88 L1223.10,439.43 L1223.60,434.98 L1224.10,430.62 L1224.60,426.43 L1225.10,422.49 L1225.60,418.88 L1226.10,415.69 L1226.60,412.99 L1227.10,410.87 L1227.60,409.40 L1228.10,408.67 L1228.60,408.79 L1229.10,409.89 L1229.60,411.90 L1230.10,414.72 L1230.60,418.28 L1231.10,422.48 L1231.60,427.22 L1232.10,432.43 L1232.60,438.00 L1233.10,443.85 L1233.60,449.89 L1234.10,456.03 L1234.60,462.18 L1235.10,468.25 L1235.60,474.15 L1236.10,479.79 L1236.60,485.07 L1237.10,489.91 L1237.60,494.23 L1238.10,497.92 L1238.60,500.90 L1239.10,503.08 L1239.60,504.37 L1240.10,504.67 L1240.60,503.77 L1241.10,501.66 L1241.60,498.47 L1242.10,494.32 L1242.60,489.33 L1243.10,483.62 L1243.60,477.30 L1244.10,470.51 L1244.60,463.36 L1245.10,455.96 L1245.60,448.45 L1246.10,440.94 L1246.60,433.54 L1247.10,426.39 L1247.60,419.60 L1248.10,413.28 L1248.60,407.57 L1249.10,402.58 L1249.60,398.43 L1250.10,395.24 L1250.60,393.13 L1251.10,392.23 L1251.60,392.70 L1252.10,394.63 L1252.60,397.87 L1253.10,402.27 L1253.60,407.68 L1254.10,413.93 L1254.60,420.88 L1255.10,428.37 L1255.60,436.25 L1256.10,444.36 L1256.60,452.54 L1257.10,460.65 L1257.60,468.53 L1258.10,476.02 L1258.60,482.97 L1259.10,489.22 L1259.60,494.63 L1260.10,499.03 L1260.60,502.27 L1261.10,504.20 L1261.60,504.65 L1262.10,502.99 L1262.60,499.11 L1263.10,493.20 L1263.60,485.44 L1264.10,476.02 L1264.60,465.12 L1265.10,452.94 L1265.60,439.66 L1266.10,425.46 L1266.60,410.53 L1267.10,395.06 L1267.60,379.24 L1268.10,363.25 L1268.60,347.28 L1269.10,331.51 L1269.60,316.14 L1270.10,301.34 L1270.60,287.31 L1271.10,274.23 L1271.60,262.29 L1272.10,251.67 L1272.60,242.57 L1273.10,235.16 L1273.60,229.64 L1274.10,226.19 L1274.60,225.00 L1275.10,226.12 L1275.60,229.38 L1276.10,234.59 L1276.60,241.60 L1277.10,250.22 L1277.60,260.30 L1278.10,271.65 L1278.60,284.11 L1279.10,297.51 L1279.60,311.68 L1280.10,326.45 L1280.60,341.64 L1281.10,357.08 L1281.60,372.62 L1282.10,388.06 L1282.60,403.25 L1283.10,418.02 L1283.60,432.19 L1284.10,445.59 L1284.60,458.05 L1285.10,469.40 L1285.60,479.48 L1286.10,488.10 L1286.60,495.11 L1287.10,500.32 L1287.60,503.58 L1288.10,504.70 L1288.60,504.14 L1289.10,502.53 L1289.60,499.97 L1290.10,496.54 L1290.60,492.36 L1291.10,487.51 L1291.60,482.08 L1292.10,476.19 L1292.60,469.92 L1293.10,463.37 L1293.60,456.64 L1294.10,449.82 L1294.60,443.01 L1295.10,436.30 L1295.60,429.80 L1296.10,423.60 L1296.60,417.79 L1297.10,412.48 L1297.60,407.75 L1298.10,403.71 L1298.60,400.45 L1299.10,398.07 L1299.60,396.66 L1300.10,396.31 L1300.60,396.66 L1301.10,397.48 L1301.60,398.76 L1302.10,400.45 L1302.60,402.53 L1303.10,404.97 L1303.60,407.74 L1304.10,410.82 L1304.60,414.18 L1305.10,417.78 L1305.60,421.60 L1306.10,425.60 L1306.60,429.77 L1307.10,434.07 L1307.60,438.47 L1308.10,442.95 L1308.60,447.48 L1309.10,452.02 L1309.60,456.55 L1310.10,461.04 L1310.60,465.46 L1311.10,469.78 L1311.60,473.98 L1312.10,478.02 L1312.60,481.88 L1313.10,485.52 L1313.60,488.93 L1314.10,492.06 L1314.60,494.90 L1315.10,497.41 L1315.60,499.57 L1316.10,501.34 L1316.60,502.70 L1317.10,503.61 L1317.60,504.06 L1318.10,504.09 L1318.60,504.04 L1319.10,503.96 L1319.60,503.85 L1320.10,503.73 L1320.60,503.60 L1321.10,503.47 L1321.60,503.36 L1322.10,503.27 L1322.60,503.22 L1323.10,503.20 L1323.60,503.26 L1324.10,503.39 L1324.60,503.56 L1325.10,503.77 L1325.60,503.99 L1326.10,504.21 L1326.60,504.41 L1327.10,504.57 L1327.60,504.67 L1328.10,504.70 L1328.60,504.53 L1329.10,504.14 L1329.60,503.53 L1330.10,502.72 L1330.60,501.72 L1331.10,500.55 L1331.60,499.22 L1332.10,497.74 L1332.60,496.13 L1333.10,494.40 L1333.60,492.56 L1334.10,490.62 L1334.60,488.61 L1335.10,486.52 L1335.60,484.38 L1336.10,482.20 L1336.60,480.00 L1337.10,477.77 L1337.60,475.55 L1338.10,473.34 L1338.60,471.15 L1339.10,469.00 L1339.60,466.91 L1340.10,464.88 L1340.60,462.92 L1341.10,461.06 L1341.60,459.31 L1342.10,457.67 L1342.60,456.16 L1343.10,454.80 L1343.60,453.60 L1344.10,452.57 L1344.60,451.72 L1345.10,451.07 L1345.60,450.63 L1346.10,450.42 L1346.60,450.42 L1347.10,450.56 L1347.60,450.79 L1348.10,451.13 L1348.60,451.54 L1349.10,452.03 L1349.60,452.56 L1350.10,453.14 L1350.60,453.75 L1351.10,454.37 L1351.60,455.00 L1352.10,455.62 L1352.60,456.21 L1353.10,456.77 L1353.60,457.27 L1354.10,457.71 L1354.60,458.08 L1355.10,458.36 L1355.60,458.54 L1356.10,458.60 L1356.60,458.50 L1357.10,458.19 L1357.60,457.69 L1358.10,457.01 L1358.60,456.16 L1359.10,455.16 L1359.60,454.01 L1360.10,452.72 L1360.60,451.31 L1361.10,449.78 L1361.60,448.16 L1362.10,446.44 L1362.60,444.64 L1363.10,442.78 L1363.60,440.86 L1364.10,438.89 L1364.60,436.88 L1365.10,434.86 L1365.60,432.82 L1366.10,430.66 L1366.60,427.96 L1367.10,424.69 L1367.60,420.89 L1368.10,416.61 L1368.60,411.88 L1369.10,406.75 L1369.60,401.25 L1370.10,395.42 L1370.60,389.30 L1371.10,382.94 L1371.60,376.36 L1372.10,369.62 L1372.60,362.74 L1373.10,355.77 L1373.60,348.76 L1374.10,341.72 L1374.60,334.72 L1375.10,327.78 L1375.60,320.95 L1376.10,314.27 L1376.60,307.77 L1377.10,301.49 L1377.60,295.48 L1378.10,289.77 L1378.60,284.40 L1379.10,279.41 L1379.60,274.85 L1380.10,270.75 L1380.60,267.14 L1381.10,264.08 L1381.60,261.60 L1382.10,259.73 L1382.60,258.52 L1383.10,258.01 L1383.60,258.35 L1384.10,259.75 L1384.60,262.13 L1385.10,265.44 L1385.60,269.60 L1386.10,274.53 L1386.60,280.18 L1387.10,286.47 L1387.60,293.32 L1388.10,300.67 L1388.60,308.44 L1389.10,316.57 L1389.60,324.99 L1390.10,333.61 L1390.60,342.38 L1391.10,351.22 L1391.60,360.06 L1392.10,368.84 L1392.60,377.47 L1393.10,385.88 L1393.60,394.02 L1394.10,401.80 L1394.60,409.16 L1395.10,416.02 L1395.60,422.32 L1396.10,427.98 L1396.60,432.95 L1397.10,437.80 L1397.60,442.80 L1398.10,447.89 L1398.60,453.04 L1399.10,458.18 L1399.60,463.29 L1400.10,468.30 L1400.60,473.18 L1401.10,477.88 L1401.60,482.35 L1402.10,486.55 L1402.60,490.42 L1403.10,493.93 L1403.60,497.03 L1404.10,499.67 L1404.60,501.80 L1405.10,503.38 L1405.60,504.36 L1406.10,504.70 L1406.60,504.57 L1407.10,504.19 L1407.60,503.58 L1408.10,502.76 L1408.60,501.74 L1409.10,500.54 L1409.60,499.18 L1410.10,497.67 L1410.60,496.03 L1411.10,494.28 L1411.60,492.43 L1412.10,490.51 L1412.60,488.53 L1413.10,486.50 L1413.60,484.44 L1414.10,482.37 L1414.60,480.31 L1415.10,478.28 L1415.60,476.28 L1416.10,474.35 L1416.60,472.48 L1417.10,470.71 L1417.60,469.05 L1418.10,467.51 L1418.60,466.12 L1419.10,464.89 L1419.60,463.83 L1420.10,462.96 L1420.60,462.31 L1421.10,461.89 L1421.60,461.71 L1422.10,461.74 L1422.60,461.88 L1423.10,462.13 L1423.60,462.48 L1424.10,462.91 L1424.60,463.43 L1425.10,464.02 L1425.60,464.68 L1426.10,465.39 L1426.60,466.16 L1427.10,466.98 L1427.60,467.83 L1428.10,468.71 L1428.60,469.61 L1429.10,470.53 L1429.60,471.45 L1430.10,472.37 L1430.60,473.29 L1431.10,474.19 L1431.60,475.07 L1432.10,475.92 L1432.60,476.74 L1433.10,477.51 L1433.60,478.22 L1434.10,478.88 L1434.60,479.47 L1435.10,479.99 L1435.60,480.42 L1436.10,480.77 L1436.60,481.02 L1437.10,481.16 L1437.60,481.20 L1438.10,481.09 L1438.60,480.84 L1439.10,480.44 L1439.60,479.91 L1440.10,479.24 L1440.60,478.45 L1441.10,477.55 L1441.60,476.52 L1442.10,475.40 L1442.60,474.17 L1443.10,472.84 L1443.60,471.43 L1444.10,469.93 L1444.60,468.35 L1445.10,466.70 L1445.60,464.98 L1446.10,463.21 L1446.60,461.37 L1447.10,459.49 L1447.60,457.57 L1448.10,455.60 L1448.60,453.61 L1449.10,451.59 L1449.60,449.55 L1450.10,447.49 L1450.60,445.43 L1451.10,443.36 L1451.60,441.29 L1452.10,439.24 L1452.60,437.20 L1453.10,435.18 L1453.60,433.18 L1454.10,431.20 L1454.60,429.02 L1455.10,426.61 L1455.60,423.99 L1456.10,421.17 L1456.60,418.18 L1457.10,415.01 L1457.60,411.70 L1458.10,408.26 L1458.60,404.70 L1459.10,401.05 L1459.60,397.30 L1460.10,393.49 L1460.60,389.63 L1461.10,385.74 L1461.60,381.82 L1462.10,377.91 L1462.60,374.00 L1463.10,370.13 L1463.60,366.30 L1464.10,362.53 L1464.60,358.84 L1465.10,355.25 L1465.60,351.77 L1466.10,348.41 L1466.60,345.19 L1467.10,342.14 L1467.60,339.25 L1468.10,336.56 L1468.60,334.08 L1469.10,331.82 L1469.60,329.80 L1470.10,328.03 L1470.60,326.54 L1471.10,325.33 L1471.60,324.43 L1472.10,323.85 L1472.60,323.61 L1473.10,323.67 L1473.60,323.94 L1474.10,324.41 L1474.60,325.07 L1475.10,325.92 L1475.60,326.95 L1476.10,328.14 L1476.60,329.51 L1477.10,331.02 L1477.60,332.69 L1478.10,334.50 L1478.60,336.44 L1479.10,338.51 L1479.60,340.70 L1480.10,343.01 L1480.60,345.41 L1481.10,347.92 L1481.60,350.52 L1482.10,353.20 L1482.60,355.96 L1483.10,358.79 L1483.60,361.68 L1484.10,364.62 L1484.60,367.61 L1485.10,370.64 L1485.60,373.71 L1486.10,376.80 L1486.60,379.91 L1487.10,383.03 L1487.60,386.15 L1488.10,389.27 L1488.60,392.38 L1489.10,395.47 L1489.60,398.54 L1490.10,401.58 L1490.60,404.57 L1491.10,407.52 L1491.60,410.41 L1492.10,413.24 L1492.60,416.01 L1493.10,418.69 L1493.60,421.30 L1494.10,423.81 L1494.60,426.23 L1495.10,428.54 L1495.60,430.74 L1496.10,432.83 L1496.60,434.96 L1497.10,437.16 L1497.60,439.42 L1498.10,441.73 L1498.60,444.08 L1499.10,446.47 L1499.60,448.90 L1500.10,451.35 L1500.60,453.83 L1501.10,456.31 L1501.60,458.80 L1502.10,461.30 L1502.60,463.78 L1503.10,466.26 L1503.60,468.71 L1504.10,471.14 L1504.60,473.53 L1505.10,475.89 L1505.60,478.20 L1506.10,480.46 L1506.60,482.65 L1507.10,484.79 L1507.60,486.85 L1508.10,488.83 L1508.60,490.73 L1509.10,492.53 L1509.60,494.24 L1510.10,495.84 L1510.60,497.34 L1511.10,498.71 L1511.60,499.96 L1512.10,501.08 L1512.60,502.06 L1513.10,502.89 L1513.60,503.58 L1514.10,504.11 L1514.60,504.47 L1515.10,504.67 L1515.60,504.67 L1516.10,504.32 L1516.60,503.62 L1517.10,502.56 L1517.60,501.19 L1518.10,499.51 L1518.60,497.55 L1519.10,495.32 L1519.60,492.86 L1520.10,490.18 L1520.60,487.29 L1521.10,484.23 L1521.60,481.01 L1522.10,477.64 L1522.60,474.17 L1523.10,470.59 L1523.60,466.94 L1524.10,463.23 L1524.60,459.48 L1525.10,455.72 L1525.60,451.97 L1526.10,448.24 L1526.60,444.56 L1527.10,440.94 L1527.60,437.41 L1528.10,433.99 L1528.60,430.66 L1529.10,427.05 L1529.60,423.11 L1530.10,418.86 L1530.60,414.36 L1531.10,409.63 L1531.60,404.70 L1532.10,399.62 L1532.60,394.42 L1533.10,389.14 L1533.60,383.81 L1534.10,378.47 L1534.60,373.15 L1535.10,367.89 L1535.60,362.72 L1536.10,357.69 L1536.60,352.83 L1537.10,348.17 L1537.60,343.74 L1538.10,339.59 L1538.60,335.76 L1539.10,332.27 L1539.60,329.16 L1540.10,326.47 L1540.60,324.23 L1541.10,322.49 L1541.60,321.27 L1542.10,320.61 L1542.60,320.56 L1543.10,321.19 L1543.60,322.49 L1544.10,324.41 L1544.60,326.91 L1545.10,329.93 L1545.60,333.44 L1546.10,337.39 L1546.60,341.73 L1547.10,346.42 L1547.60,351.42 L1548.10,356.67 L1548.60,362.13 L1549.10,367.77 L1549.60,373.52 L1550.10,379.35 L1550.60,385.22 L1551.10,391.07 L1551.60,396.87 L1552.10,402.56 L1552.60,408.10 L1553.10,413.45 L1553.60,418.56 L1554.10,423.38 L1554.60,427.88 L1555.10,432.00 L1555.60,436.05 L1556.10,440.34 L1556.60,444.81 L1557.10,449.42 L1557.60,454.13 L1558.10,458.88 L1558.60,463.64 L1559.10,468.36 L1559.60,472.98 L1560.10,477.47 L1560.60,481.77 L1561.10,485.85 L1561.60,489.65 L1562.10,493.12 L1562.60,496.23 L1563.10,498.93 L1563.60,501.17 L1564.10,502.89 L1564.60,504.07 L1565.10,504.65 L1565.60,504.58 L1566.10,503.84 L1566.60,502.49 L1567.10,500.58 L1567.60,498.16 L1568.10,495.28 L1568.60,491.99 L1569.10,488.34 L1569.60,484.39 L1570.10,480.18 L1570.60,475.78 L1571.10,471.22 L1571.60,466.57 L1572.10,461.87 L1572.60,457.17 L1573.10,452.53 L1573.60,448.00 L1574.10,443.63 L1574.60,439.47 L1575.10,435.58 L1575.60,432.00 L1576.10,428.47 L1576.60,424.70 L1577.10,420.73 L1577.60,416.61 L1578.10,412.36 L1578.60,408.04 L1579.10,403.66 L1579.60,399.29 L1580.10,394.94 L1580.60,390.66 L1581.10,386.49 L1581.60,382.46 L1582.10,378.61 L1582.60,374.98 L1583.10,371.62 L1583.60,368.54 L1584.10,365.81 L1584.60,363.44 L1585.10,361.48 L1585.60,359.97 L1586.10,358.95 L1586.60,358.45 L1587.10,358.58 L1587.60,359.66 L1588.10,361.62 L1588.60,364.41 L1589.10,367.92 L1589.60,372.08 L1590.10,376.80 L1590.60,382.01 L1591.10,387.63 L1591.60,393.56 L1592.10,399.73 L1592.60,406.07 L1593.10,412.47 L1593.60,418.87 L1594.10,425.19 L1594.60,431.33 L1595.10,437.22 L1595.60,442.78 L1596.10,447.92 L1596.60,452.57 L1597.10,456.63 L1597.60,460.04 L1598.10,462.70 L1598.60,464.96 L1599.10,467.20 L1599.60,469.42 L1600.10,471.62 L1600.60,473.79 L1601.10,475.92 L1601.60,478.02 L1602.10,480.07 L1602.60,482.07 L1603.10,484.02 L1603.60,485.91 L1604.10,487.74 L1604.60,489.50 L1605.10,491.19 L1605.60,492.81 L1606.10,494.34 L1606.60,495.79 L1607.10,497.14 L1607.60,498.40 L1608.10,499.56 L1608.60,500.61 L1609.10,501.56 L1609.60,502.39 L1610.10,503.10 L1610.60,503.68 L1611.10,504.14 L1611.60,504.47 L1612.10,504.65 L1612.60,504.70 L1613.10,504.69 L1613.60,504.66 L1614.10,504.62 L1614.60,504.57 L1615.10,504.51 L1615.60,504.44 L1616.10,504.36 L1616.60,504.28 L1617.10,504.20 L1617.60,504.12 L1618.10,504.04 L1618.60,503.96 L1619.10,503.89 L1619.60,503.83 L1620.10,503.78 L1620.60,503.74 L1621.10,503.71 L1621.60,503.70 L1622.10,503.70 L1622.60,503.72 L1623.10,503.75 L1623.60,503.79 L1624.10,503.84 L1624.60,503.90 L1625.10,503.96 L1625.60,504.03 L1626.10,504.10 L1626.60,504.17 L1627.10,504.24 L1627.60,504.32 L1628.10,504.39 L1628.60,504.45 L1629.10,504.52 L1629.60,504.57 L1630.10,504.62 L1630.60,504.66 L1631.10,504.68 L1631.60,504.70 L1632.10,504.69 L1632.60,504.58 L1633.10,504.35 L1633.60,504.01 L1634.10,503.56 L1634.60,503.01 L1635.10,502.36 L1635.60,501.62 L1636.10,500.80 L1636.60,499.89 L1637.10,498.92 L1637.60,497.87 L1638.10,496.77 L1638.60,495.60 L1639.10,494.39 L1639.60,493.13 L1640.10,491.83 L1640.60,490.49 L1641.10,489.12 L1641.60,487.74 L1642.10,486.33 L1642.60,484.91 L1643.10,483.49 L1643.60,482.06 L1644.10,480.64 L1644.60,479.22 L1645.10,477.83 L1645.60,476.45 L1646.10,475.11 L1646.60,473.79 L1647.10,472.51 L1647.60,471.28 L1648.10,470.09 L1648.60,468.96 L1649.10,467.89 L1649.60,466.89 L1650.10,465.96 L1650.60,465.10 L1651.10,464.33 L1651.60,463.64 L1652.10,463.05 L1652.60,462.56 L1653.10,462.17 L1653.60,461.90 L1654.10,461.74 L1654.60,461.70 L1655.10,461.85 L1655.60,462.19 L1656.10,462.72 L1656.60,463.43 L1657.10,464.29 L1657.60,465.31 L1658.10,466.46 L1658.60,467.74 L1659.10,469.13 L1659.60,470.62 L1660.10,472.19 L1660.60,473.85 L1661.10,475.57 L1661.60,477.34 L1662.10,479.14 L1662.60,480.98 L1663.10,482.83 L1663.60,484.68 L1664.10,486.52 L1664.60,488.34 L1665.10,490.13 L1665.60,491.87 L1666.10,493.55 L1666.60,495.16 L1667.10,496.69 L1667.60,498.12 L1668.10,499.44 L1668.60,500.65 L1669.10,501.72 L1669.60,502.64 L1670.10,503.41 L1670.60,504.02 L1671.10,504.44 L1671.60,504.66 L1672.10,504.68 L1672.60,504.50 L1673.10,504.10 L1673.60,503.51 L1674.10,502.71 L1674.60,501.72 L1675.10,500.54 L1675.60,499.17 L1676.10,497.61 L1676.60,495.88 L1677.10,493.96 L1677.60,491.87 L1678.10,489.61 L1678.60,487.18 L1679.10,484.59 L1679.60,481.83 L1680.10,478.92 L1680.60,475.85 L1681.10,472.64 L1681.60,469.27 L1682.10,465.76 L1682.60,462.11 L1683.10,458.33 L1683.60,454.41 L1684.10,450.36 L1684.60,446.18 L1685.10,441.88 L1685.60,437.46 L1686.10,432.92 L1686.60,427.49 L1687.10,419.80 L1687.60,410.29 L1688.10,399.46 L1688.60,387.77 L1689.10,375.74 L1689.60,363.82 L1689.70,361.50" fill="none" stroke="#16ac0c" stroke-width="3" stroke-linejoin="round"/>
</g>
<path d="M1021.21,563.0 V549.7 M1021.21,39.5 V52.8 M1148.24,563.0 V549.7 M1148.24,39.5 V52.8 M1275.28,563.0 V549.7 M1275.28,39.5 V52.8 M1402.31,563.0 V549.7 M1402.31,39.5 V52.8 M1529.35,563.0 V549.7 M1529.35,39.5 V52.8 M1656.38,563.0 V549.7 M1656.38,39.5 V52.8 M983.1,542.00 H996.6 M1719.9,542.00 H1706.4 M983.1,481.82 H996.6 M1719.9,481.82 H1706.4 M983.1,421.64 H996.6 M1719.9,421.64 H1706.4 M983.1,361.46 H996.6 M1719.9,361.46 H1706.4 M983.1,301.28 H996.6 M1719.9,301.28 H1706.4 M983.1,241.10 H996.6 M1719.9,241.10 H1706.4 M983.1,180.92 H996.6 M1719.9,180.92 H1706.4 M983.1,120.74 H996.6 M1719.9,120.74 H1706.4 M983.1,60.56 H996.6 M1719.9,60.56 H1706.4" stroke="#000" stroke-width="2.6" fill="none"/>
<rect x="983.1" y="39.5" width="736.8000000000001" height="523.5" fill="none" stroke="#000" stroke-width="2.7"/>
<text class="t" x="971.2" y="548.9" text-anchor="end" textLength="47.7" lengthAdjust="spacingAndGlyphs">100</text>
<text class="t" x="971.2" y="488.7" text-anchor="end" textLength="47.7" lengthAdjust="spacingAndGlyphs">120</text>
<text class="t" x="971.2" y="428.5" text-anchor="end" textLength="47.7" lengthAdjust="spacingAndGlyphs">140</text>
<text class="t" x="971.2" y="368.4" text-anchor="end" textLength="47.7" lengthAdjust="spacingAndGlyphs">160</text>
<text class="t" x="971.2" y="308.2" text-anchor="end" textLength="47.7" lengthAdjust="spacingAndGlyphs">180</text>
<text class="t" x="971.2" y="248.0" text-anchor="end" textLength="47.7" lengthAdjust="spacingAndGlyphs">200</text>
<text class="t" x="971.2" y="187.8" text-anchor="end" textLength="47.7" lengthAdjust="spacingAndGlyphs">220</text>
<text class="t" x="971.2" y="127.6" text-anchor="end" textLength="47.7" lengthAdjust="spacingAndGlyphs">240</text>
<text class="t" x="971.2" y="67.5" text-anchor="end" textLength="47.7" lengthAdjust="spacingAndGlyphs">260</text>
<text class="t" x="1021.2" y="596.4" text-anchor="middle" textLength="31.5" lengthAdjust="spacingAndGlyphs">15</text>
<text class="t" x="1148.2" y="596.4" text-anchor="middle" textLength="31.5" lengthAdjust="spacingAndGlyphs">20</text>
<text class="t" x="1275.3" y="596.4" text-anchor="middle" textLength="31.5" lengthAdjust="spacingAndGlyphs">25</text>
<text class="t" x="1402.3" y="596.4" text-anchor="middle" textLength="31.5" lengthAdjust="spacingAndGlyphs">30</text>
<text class="t" x="1529.3" y="596.4" text-anchor="middle" textLength="31.5" lengthAdjust="spacingAndGlyphs">35</text>
<text class="t" x="1656.4" y="596.4" text-anchor="middle" textLength="31.5" lengthAdjust="spacingAndGlyphs">40</text>
<text class="a" x="1312.6" y="636" textLength="21.3" lengthAdjust="spacingAndGlyphs">U</text>
<text class="a" x="1344.9" y="636" textLength="45.0" lengthAdjust="spacingAndGlyphs">(V)</text>
<text class="a" transform="translate(904.3,422.4) rotate(-90)" textLength="77.5" lengthAdjust="spacingAndGlyphs">Count</text>
<text class="a" transform="translate(904.3,333.3) rotate(-90)" textLength="53.5" lengthAdjust="spacingAndGlyphs">rate</text>
<text class="a" transform="translate(904.3,275.8) rotate(-90)" textLength="96.2" lengthAdjust="spacingAndGlyphs">(cts/s)</text>
<text class="b" x="982.7" y="25.5">b<tspan dx="2" style="font-size:36px">)</tspan></text>
</svg>
</body></html>
